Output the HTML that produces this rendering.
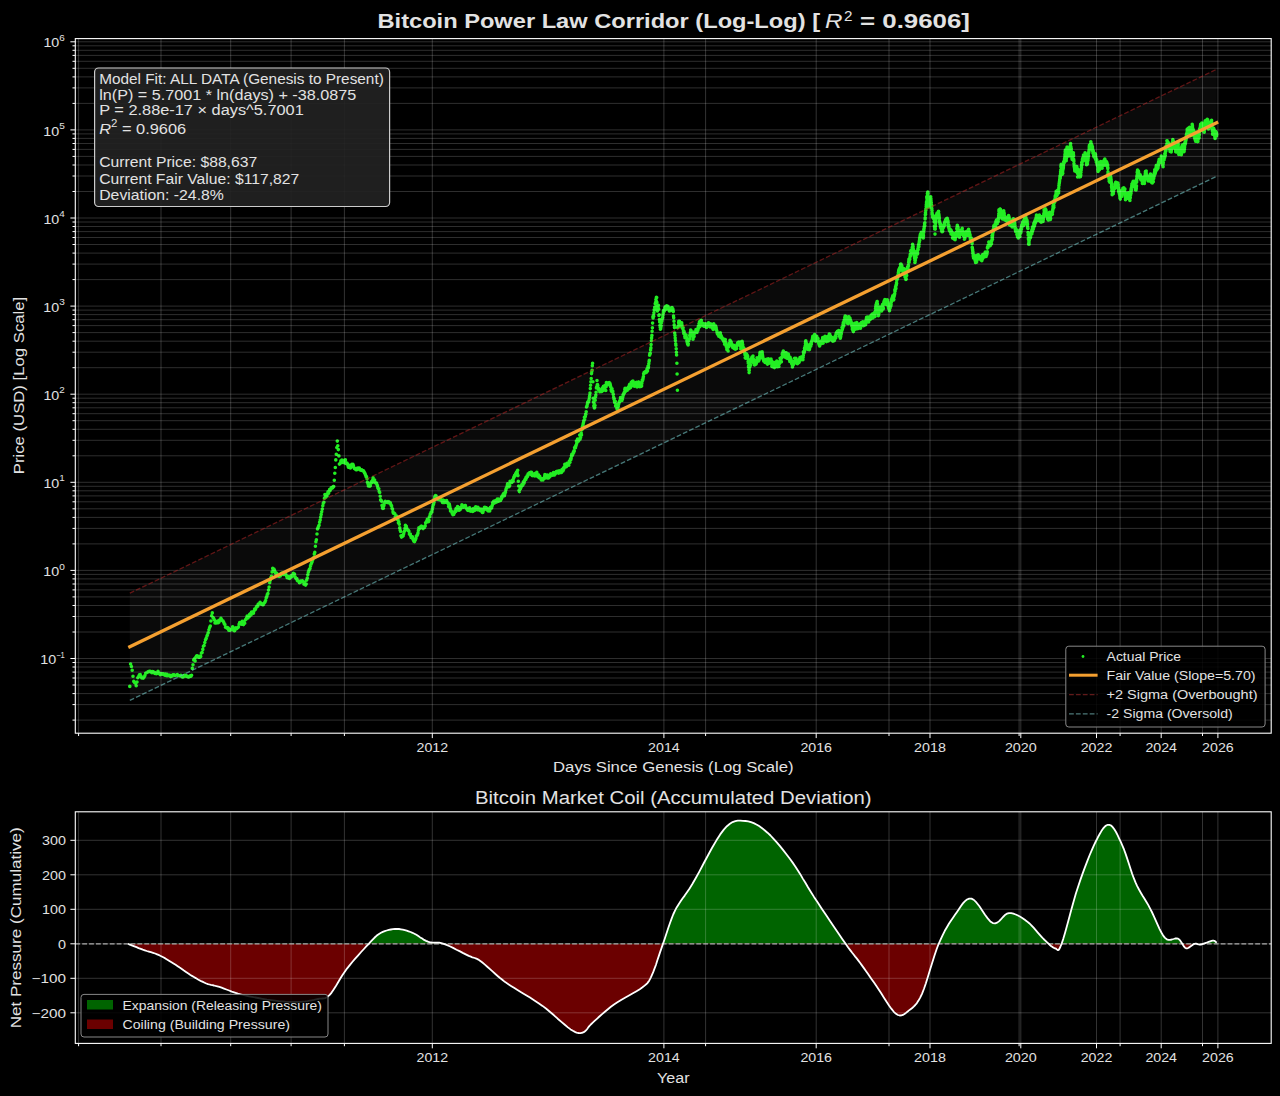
<!DOCTYPE html>
<html><head><meta charset="utf-8"><title>Bitcoin Power Law Corridor</title>
<style>html,body{margin:0;padding:0;background:#000;width:1280px;height:1096px;overflow:hidden}</style>
</head><body>
<svg width="1280" height="1096" viewBox="0 0 1280 1096" style="display:block">
<rect width="1280" height="1096" fill="#000"/>
<g font-family='"Liberation Sans", sans-serif'>
<path d="M129.8 593.2L1216.7 69.2L1216.7 176.3L129.8 700.4Z" fill="#ffffff" fill-opacity="0.04"/>
<path d="M129.8 686.4h0M130.6 664.1h0M131.4 666.5h0M132.2 670.3h0M133.0 676.3h0M133.8 681.4h0M134.6 682.6h0M135.4 683.2h0M136.2 685.7h0M137.0 682.1h0M137.8 677.7h0M138.6 676.5h0M139.4 674.7h0M140.2 674.5h0M141.0 676.4h0M141.8 678.0h0M142.6 678.0h0M143.3 678.1h0M144.1 677.1h0M144.9 675.6h0M145.7 673.2h0M146.5 672.7h0M147.2 672.5h0M148.0 671.8h0M148.8 671.5h0M149.6 671.4h0M150.3 671.2h0M151.1 672.2h0M151.9 672.8h0M152.7 671.5h0M153.4 672.5h0M154.2 672.3h0M155.0 673.4h0M155.7 673.0h0M156.5 673.7h0M157.2 673.0h0M158.0 671.4h0M158.8 673.4h0M159.5 673.4h0M160.3 674.8h0M161.0 673.9h0M161.8 673.8h0M162.5 674.2h0M163.3 673.9h0M164.0 674.6h0M164.8 675.3h0M165.5 674.1h0M166.3 675.6h0M167.0 674.3h0M167.8 675.7h0M168.5 675.4h0M169.2 675.6h0M170.0 675.2h0M170.7 676.6h0M171.5 675.5h0M172.2 675.9h0M172.9 674.9h0M173.7 674.8h0M174.4 675.0h0M175.1 675.5h0M175.9 675.2h0M176.6 675.0h0M177.3 674.5h0M178.0 675.6h0M178.8 675.5h0M179.5 675.8h0M180.2 676.0h0M180.9 675.4h0M181.7 676.1h0M182.4 676.9h0M183.1 676.9h0M183.8 676.0h0M184.5 675.2h0M185.2 675.3h0M186.0 676.3h0M186.7 676.1h0M187.4 676.4h0M188.1 676.9h0M188.8 676.9h0M189.5 676.3h0M190.2 675.9h0M190.9 676.2h0M191.6 675.3h0M192.3 668.4h0M193.0 664.8h0M193.7 659.9h0M194.4 658.9h0M195.1 660.9h0M195.8 657.2h0M196.5 656.0h0M197.2 655.8h0M197.9 656.8h0M198.6 657.2h0M199.3 656.3h0M200.0 657.1h0M200.7 656.4h0M201.4 653.1h0M202.1 652.6h0M202.8 649.4h0M203.4 646.3h0M204.1 645.6h0M204.8 642.5h0M205.5 639.7h0M206.2 638.4h0M206.9 636.3h0M207.5 634.7h0M208.2 632.7h0M208.9 629.8h0M209.6 627.5h0M210.3 626.1h0M210.9 621.0h0M211.6 615.7h0M212.3 612.9h0M213.0 617.6h0M213.6 618.2h0M214.3 619.8h0M215.0 622.9h0M215.6 622.4h0M216.3 622.9h0M217.0 621.2h0M217.6 621.1h0M218.3 622.7h0M219.0 622.1h0M219.6 620.1h0M220.3 620.0h0M220.9 618.4h0M221.6 619.5h0M222.3 620.6h0M222.9 620.8h0M223.6 622.0h0M224.2 623.6h0M224.9 624.6h0M225.5 627.2h0M226.2 627.2h0M226.9 628.1h0M227.5 627.5h0M228.2 628.0h0M228.8 630.3h0M229.5 629.9h0M230.1 630.2h0M230.7 629.4h0M231.4 629.4h0M232.0 628.8h0M232.7 626.7h0M233.3 629.7h0M234.0 630.6h0M234.6 630.8h0M235.2 628.5h0M235.9 627.9h0M236.5 628.8h0M237.2 627.9h0M237.8 627.7h0M238.4 627.0h0M239.1 624.2h0M239.7 622.5h0M240.3 623.6h0M241.0 623.9h0M241.6 624.2h0M242.2 621.4h0M242.9 623.9h0M243.5 624.6h0M244.1 621.9h0M244.7 623.2h0M245.4 619.7h0M246.0 619.3h0M246.6 618.0h0M247.2 616.1h0M247.9 618.0h0M248.5 616.5h0M249.1 616.8h0M249.7 614.3h0M250.3 613.9h0M251.0 615.0h0M251.6 612.1h0M252.2 612.4h0M252.8 612.5h0M253.4 613.3h0M254.0 611.1h0M254.7 609.1h0M255.3 609.5h0M255.9 608.3h0M256.5 606.8h0M257.1 606.1h0M257.7 606.2h0M258.3 604.1h0M258.9 603.7h0M259.5 603.6h0M260.1 602.4h0M260.7 603.9h0M261.4 603.8h0M262.0 603.9h0M262.6 604.8h0M263.2 604.7h0M263.8 603.5h0M264.4 602.8h0M265.0 602.0h0M265.6 600.5h0M266.2 597.9h0M266.8 596.6h0M267.3 594.6h0M267.9 593.6h0M268.5 590.1h0M269.1 587.0h0M269.7 582.8h0M270.3 580.3h0M270.9 577.6h0M271.5 576.4h0M272.1 572.0h0M272.7 568.4h0M273.3 570.0h0M273.9 569.1h0M274.4 570.1h0M275.0 571.8h0M275.6 573.2h0M276.2 573.5h0M276.8 573.4h0M277.4 575.4h0M278.0 575.6h0M278.5 576.2h0M279.1 576.4h0M279.7 576.1h0M280.3 575.9h0M280.9 574.7h0M281.4 573.3h0M282.0 573.0h0M282.6 573.9h0M283.2 573.0h0M283.7 574.5h0M284.3 574.0h0M284.9 573.7h0M285.5 572.9h0M286.0 575.0h0M286.6 576.2h0M287.2 577.7h0M287.7 577.1h0M288.3 576.5h0M288.9 578.3h0M289.4 578.5h0M290.0 577.8h0M290.6 576.6h0M291.1 575.8h0M291.7 576.7h0M292.3 575.8h0M292.8 574.7h0M293.4 573.4h0M294.0 574.6h0M294.5 574.1h0M295.1 576.7h0M295.6 577.8h0M296.2 578.8h0M296.8 578.6h0M297.3 580.4h0M297.9 580.9h0M298.4 581.2h0M299.0 581.4h0M299.5 582.8h0M300.1 582.5h0M300.7 581.0h0M301.2 581.8h0M301.8 581.5h0M302.3 580.9h0M302.9 581.3h0M303.4 581.8h0M304.0 584.2h0M304.5 582.3h0M305.1 584.3h0M305.6 585.1h0M306.2 584.0h0M306.7 580.1h0M307.3 578.0h0M307.8 574.7h0M308.3 572.2h0M308.9 570.5h0M309.4 569.3h0M310.0 568.5h0M310.5 565.9h0M311.1 564.3h0M311.6 563.0h0M312.1 561.8h0M312.7 559.8h0M313.2 558.2h0M313.8 557.5h0M314.3 554.1h0M314.8 552.4h0M315.4 546.3h0M315.9 541.8h0M316.4 539.8h0M317.0 534.0h0M317.5 528.9h0M318.0 527.9h0M318.6 526.3h0M319.1 525.2h0M319.6 522.2h0M320.2 520.0h0M320.7 517.1h0M321.2 514.4h0M321.7 511.7h0M322.3 509.1h0M322.8 505.8h0M323.3 503.3h0M323.9 502.2h0M324.4 498.3h0M324.9 494.5h0M325.4 496.2h0M326.0 497.1h0M326.5 494.2h0M327.0 496.0h0M327.5 493.7h0M328.0 491.9h0M328.6 493.2h0M329.1 491.4h0M329.6 489.5h0M330.1 490.5h0M330.6 489.1h0M331.2 487.8h0M331.7 488.3h0M332.2 488.1h0M332.7 487.8h0M333.2 486.5h0M333.7 486.6h0M334.3 480.3h0M334.8 473.3h0M335.3 467.5h0M335.8 459.9h0M336.3 454.2h0M336.8 447.5h0M337.3 441.1h0M337.8 445.8h0M338.3 449.6h0M338.9 455.9h0M339.4 464.1h0M339.9 463.7h0M340.4 462.9h0M340.9 460.7h0M341.4 461.0h0M341.9 460.0h0M342.4 460.6h0M342.9 462.5h0M343.4 460.5h0M343.9 461.7h0M344.4 462.6h0M344.9 461.3h0M345.4 459.9h0M345.9 463.5h0M346.4 463.5h0M346.9 463.1h0M347.4 463.9h0M347.9 465.6h0M348.4 467.3h0M348.9 465.7h0M349.4 465.4h0M349.9 466.4h0M350.4 467.9h0M350.9 466.5h0M351.4 465.2h0M351.9 464.4h0M352.4 464.6h0M352.9 464.4h0M353.4 465.5h0M353.9 467.6h0M354.4 468.4h0M354.9 468.8h0M355.3 469.0h0M355.8 469.6h0M356.3 468.5h0M356.8 469.7h0M357.3 469.2h0M357.8 468.1h0M358.3 468.2h0M358.8 468.6h0M359.3 468.0h0M359.7 469.5h0M360.2 469.9h0M360.7 470.1h0M361.2 470.1h0M361.7 469.9h0M362.2 470.3h0M362.6 470.8h0M363.1 470.6h0M363.6 471.0h0M364.1 472.1h0M364.6 472.9h0M365.1 473.8h0M365.5 475.0h0M366.0 476.6h0M366.5 476.6h0M367.0 478.8h0M367.4 482.2h0M367.9 483.6h0M368.4 485.9h0M368.9 484.5h0M369.4 484.0h0M369.8 486.3h0M370.3 485.7h0M370.8 483.3h0M371.3 481.8h0M371.7 482.7h0M372.2 482.0h0M372.7 480.1h0M373.1 477.9h0M373.6 480.3h0M374.1 480.3h0M374.6 480.1h0M375.0 482.6h0M375.5 482.6h0M376.0 482.9h0M376.4 483.1h0M376.9 484.5h0M377.4 485.6h0M377.8 487.8h0M378.3 488.7h0M378.8 488.8h0M379.2 491.5h0M379.7 492.5h0M380.2 496.3h0M380.6 499.9h0M381.1 500.2h0M381.6 501.3h0M382.0 505.4h0M382.5 508.1h0M382.9 508.5h0M383.4 508.3h0M383.9 505.6h0M384.3 503.6h0M384.8 502.7h0M385.2 501.4h0M385.7 501.8h0M386.2 502.3h0M386.6 502.2h0M387.1 502.5h0M387.5 501.7h0M388.0 501.6h0M388.4 502.5h0M388.9 501.9h0M389.4 503.1h0M389.8 503.1h0M390.3 502.8h0M390.7 504.2h0M391.2 505.4h0M391.6 505.9h0M392.1 508.5h0M392.5 509.0h0M393.0 511.9h0M393.4 513.2h0M393.9 513.3h0M394.3 513.4h0M394.8 513.7h0M395.2 517.0h0M395.7 517.7h0M396.1 517.0h0M396.6 516.1h0M397.0 516.6h0M397.5 519.6h0M397.9 519.6h0M398.4 522.7h0M398.8 521.9h0M399.3 524.3h0M399.7 527.8h0M400.1 530.0h0M400.6 531.5h0M401.0 535.7h0M401.5 537.1h0M401.9 535.9h0M402.4 535.3h0M402.8 536.2h0M403.2 535.7h0M403.7 533.8h0M404.1 532.0h0M404.6 530.8h0M405.0 528.2h0M405.4 525.4h0M405.9 527.0h0M406.3 526.2h0M406.8 528.4h0M407.2 529.4h0M407.6 530.0h0M408.1 530.6h0M408.5 530.5h0M408.9 531.2h0M409.4 534.0h0M409.8 534.5h0M410.3 534.0h0M410.7 536.0h0M411.1 537.4h0M411.6 537.6h0M412.0 538.1h0M412.4 536.9h0M412.9 539.0h0M413.3 539.9h0M413.7 541.1h0M414.1 541.4h0M414.6 541.6h0M415.0 539.6h0M415.4 539.8h0M415.9 538.4h0M416.3 536.0h0M416.7 535.9h0M417.2 535.2h0M417.6 534.6h0M418.0 532.9h0M418.4 530.2h0M418.9 527.7h0M419.3 528.6h0M419.7 528.5h0M420.1 528.0h0M420.6 527.1h0M421.0 526.3h0M421.4 526.2h0M421.8 526.2h0M422.3 526.8h0M422.7 527.4h0M423.1 528.6h0M423.5 527.3h0M423.9 527.5h0M424.4 527.5h0M424.8 526.5h0M425.2 525.9h0M425.6 522.7h0M426.0 522.8h0M426.5 521.5h0M426.9 521.2h0M427.3 519.4h0M427.7 521.4h0M428.1 520.6h0M428.6 521.6h0M429.0 520.2h0M429.4 516.7h0M429.8 516.7h0M430.2 514.2h0M430.6 513.8h0M431.1 512.3h0M431.5 511.7h0M431.9 511.9h0M432.3 509.5h0M432.7 507.2h0M433.1 505.2h0M433.5 504.5h0M434.0 502.4h0M434.4 498.8h0M434.8 497.1h0M435.2 496.1h0M435.6 495.6h0M436.0 495.7h0M436.4 497.8h0M436.8 498.8h0M437.2 498.4h0M437.6 498.5h0M438.1 499.4h0M438.5 499.1h0M438.9 498.3h0M439.3 498.6h0M439.7 498.0h0M440.1 500.0h0M440.5 498.9h0M440.9 500.1h0M441.3 499.8h0M441.7 500.3h0M442.1 501.2h0M442.5 502.5h0M442.9 500.0h0M443.3 501.2h0M443.7 502.4h0M444.1 500.6h0M444.5 502.5h0M445.0 501.5h0M445.4 501.2h0M445.8 501.8h0M446.2 502.2h0M446.6 500.5h0M447.0 501.7h0M447.4 502.8h0M447.8 503.0h0M448.2 503.7h0M448.6 506.5h0M449.0 503.9h0M449.4 504.4h0M449.8 506.3h0M450.2 508.4h0M450.5 510.9h0M450.9 510.5h0M451.3 511.1h0M451.7 511.8h0M452.1 513.2h0M452.5 513.8h0M452.9 514.8h0M453.3 513.0h0M453.7 514.4h0M454.1 513.2h0M454.5 512.7h0M454.9 511.4h0M455.3 510.5h0M455.7 511.4h0M456.1 508.5h0M456.5 509.6h0M456.9 508.1h0M457.3 507.7h0M457.6 506.6h0M458.0 507.2h0M458.4 508.5h0M458.8 510.3h0M459.2 510.2h0M459.6 509.3h0M460.0 509.4h0M460.4 509.2h0M460.8 507.2h0M461.2 507.7h0M461.5 507.3h0M461.9 504.9h0M462.3 506.4h0M462.7 505.5h0M463.1 505.8h0M463.5 507.2h0M463.9 506.1h0M464.3 506.5h0M464.6 506.2h0M465.0 505.6h0M465.4 505.6h0M465.8 507.4h0M466.2 508.3h0M466.6 508.2h0M466.9 508.4h0M467.3 509.7h0M467.7 510.3h0M468.1 510.4h0M468.5 510.0h0M468.9 508.5h0M469.2 508.7h0M469.6 507.9h0M470.0 508.6h0M470.4 511.1h0M470.8 509.9h0M471.1 509.7h0M471.5 510.2h0M471.9 511.3h0M472.3 510.0h0M472.7 511.4h0M473.0 510.8h0M473.4 508.6h0M473.8 509.2h0M474.2 509.8h0M474.5 510.5h0M474.9 509.5h0M475.3 508.3h0M475.7 506.7h0M476.0 508.0h0M476.4 509.3h0M476.8 508.7h0M477.2 509.8h0M477.5 507.9h0M477.9 507.4h0M478.3 509.6h0M478.7 509.1h0M479.0 510.0h0M479.4 509.3h0M479.8 509.0h0M480.2 510.6h0M480.5 510.3h0M480.9 509.1h0M481.3 509.2h0M481.7 509.5h0M482.0 511.1h0M482.4 512.4h0M482.8 512.4h0M483.1 511.4h0M483.5 510.1h0M483.9 509.5h0M484.2 508.1h0M484.6 507.3h0M485.0 508.8h0M485.3 507.8h0M485.7 507.6h0M486.1 509.0h0M486.4 508.3h0M486.8 509.7h0M487.2 508.3h0M487.5 510.3h0M487.9 509.9h0M488.3 511.0h0M488.6 510.3h0M489.0 509.6h0M489.4 509.1h0M489.7 510.9h0M490.1 509.3h0M490.5 507.4h0M490.8 508.5h0M491.2 506.9h0M491.6 507.9h0M491.9 506.4h0M492.3 505.2h0M492.6 502.7h0M493.0 502.9h0M493.4 503.2h0M493.7 501.4h0M494.1 503.2h0M494.5 501.6h0M494.8 501.2h0M495.2 500.7h0M495.5 501.8h0M495.9 502.2h0M496.3 502.1h0M496.6 502.0h0M497.0 501.4h0M497.3 499.0h0M497.7 499.6h0M498.0 499.3h0M498.4 499.0h0M498.8 501.1h0M499.1 501.0h0M499.5 500.4h0M499.8 499.6h0M500.2 499.8h0M500.5 500.4h0M500.9 499.2h0M501.3 499.0h0M501.6 497.1h0M502.0 497.5h0M502.3 495.7h0M502.7 496.0h0M503.0 495.0h0M503.4 493.7h0M503.7 494.0h0M504.1 494.0h0M504.4 495.8h0M504.8 494.1h0M505.1 492.4h0M505.5 492.3h0M505.9 489.8h0M506.2 488.5h0M506.6 488.0h0M506.9 487.3h0M507.3 485.2h0M507.6 483.9h0M508.0 484.0h0M508.3 485.0h0M508.7 486.6h0M509.0 486.7h0M509.4 485.3h0M509.7 485.5h0M510.1 481.3h0M510.4 481.8h0M510.7 482.2h0M511.1 481.5h0M511.4 481.6h0M511.8 482.4h0M512.1 481.1h0M512.5 480.2h0M512.8 480.0h0M513.2 481.2h0M513.5 478.5h0M513.9 477.1h0M514.2 476.9h0M514.6 475.4h0M514.9 476.0h0M515.2 475.0h0M515.6 474.0h0M515.9 473.4h0M516.3 473.5h0M516.6 472.0h0M517.0 471.7h0M517.3 473.2h0M517.7 470.3h0M518.0 475.6h0M518.3 481.3h0M518.7 486.0h0M519.0 490.6h0M519.4 491.6h0M519.7 489.8h0M520.0 488.9h0M520.4 488.7h0M520.7 486.9h0M521.1 487.3h0M521.4 485.8h0M521.7 485.1h0M522.1 484.2h0M522.4 485.5h0M522.8 484.9h0M523.1 484.6h0M523.4 481.7h0M523.8 482.3h0M524.1 483.1h0M524.5 480.9h0M524.8 479.9h0M525.1 479.8h0M525.5 478.7h0M525.8 479.5h0M526.1 477.3h0M526.5 477.8h0M526.8 477.1h0M527.1 475.9h0M527.5 476.4h0M527.8 475.4h0M528.2 473.7h0M528.5 474.3h0M528.8 474.2h0M529.2 473.7h0M529.5 472.8h0M529.8 474.0h0M530.2 473.4h0M530.5 472.6h0M530.8 472.5h0M531.2 474.6h0M531.5 472.3h0M531.8 474.6h0M532.2 475.6h0M532.5 475.2h0M532.8 475.3h0M533.1 474.8h0M533.5 474.0h0M533.8 474.8h0M534.1 475.7h0M534.5 475.2h0M534.8 475.9h0M535.1 474.8h0M535.5 473.4h0M535.8 473.8h0M536.1 475.3h0M536.4 473.1h0M536.8 472.4h0M537.1 474.3h0M537.4 476.2h0M537.8 475.1h0M538.1 474.8h0M538.4 474.9h0M538.7 475.8h0M539.1 477.7h0M539.4 477.4h0M539.7 476.3h0M540.0 477.8h0M540.4 478.0h0M540.7 478.3h0M541.0 479.3h0M541.4 479.9h0M541.7 479.2h0M542.0 478.7h0M542.3 478.7h0M542.7 479.7h0M543.0 480.0h0M543.3 479.3h0M543.6 478.8h0M543.9 478.3h0M544.3 478.4h0M544.6 476.4h0M544.9 474.6h0M545.2 475.3h0M545.6 476.5h0M545.9 477.7h0M546.2 476.4h0M546.5 475.7h0M546.8 475.7h0M547.2 475.1h0M547.5 477.9h0M547.8 475.5h0M548.1 475.3h0M548.5 477.9h0M548.8 476.2h0M549.1 475.3h0M549.4 477.1h0M549.7 476.3h0M550.0 476.4h0M550.4 475.8h0M550.7 473.7h0M551.0 474.1h0M551.3 474.4h0M551.6 474.2h0M552.0 474.7h0M552.3 474.1h0M552.6 475.2h0M552.9 474.5h0M553.2 473.6h0M553.5 472.5h0M553.9 473.7h0M554.2 473.7h0M554.5 475.0h0M554.8 474.4h0M555.1 473.9h0M555.4 473.8h0M555.8 472.2h0M556.1 473.1h0M556.4 471.6h0M556.7 472.3h0M557.0 472.3h0M557.3 471.7h0M557.6 471.2h0M558.0 471.5h0M558.3 472.5h0M558.6 473.1h0M558.9 471.5h0M559.2 470.9h0M559.5 472.1h0M559.8 472.6h0M560.1 471.4h0M560.5 472.4h0M560.8 471.6h0M561.1 471.7h0M561.4 472.4h0M561.7 471.2h0M562.0 469.5h0M562.3 470.8h0M562.6 470.8h0M562.9 470.9h0M563.3 468.3h0M563.6 469.6h0M563.9 467.6h0M564.2 467.4h0M564.5 466.8h0M564.8 464.3h0M565.1 467.2h0M565.4 466.3h0M565.7 465.2h0M566.0 466.1h0M566.3 466.8h0M566.6 464.7h0M567.0 463.4h0M567.3 465.2h0M567.6 464.6h0M567.9 465.0h0M568.2 463.9h0M568.5 464.3h0M568.8 465.2h0M569.1 462.3h0M569.4 461.0h0M569.7 462.6h0M570.0 462.3h0M570.3 460.0h0M570.6 458.7h0M570.9 459.6h0M571.2 458.0h0M571.5 455.8h0M571.8 454.4h0M572.1 455.6h0M572.5 455.1h0M572.8 454.2h0M573.1 453.0h0M573.4 452.1h0M573.7 452.4h0M574.0 450.7h0M574.3 451.0h0M574.6 447.8h0M574.9 447.4h0M575.2 447.1h0M575.5 447.8h0M575.8 445.6h0M576.1 445.6h0M576.4 441.1h0M576.7 443.5h0M577.0 441.1h0M577.3 440.0h0M577.6 439.1h0M577.9 439.5h0M578.2 440.1h0M578.5 441.1h0M578.8 439.6h0M579.1 440.0h0M579.4 439.0h0M579.7 435.0h0M580.0 439.3h0M580.3 436.9h0M580.6 437.5h0M580.9 434.3h0M581.2 433.0h0M581.5 434.9h0M581.8 429.7h0M582.1 429.5h0M582.4 426.7h0M582.7 426.1h0M583.0 424.9h0M583.2 423.5h0M583.5 422.6h0M583.8 420.9h0M584.1 420.3h0M584.4 417.2h0M584.7 418.9h0M585.0 416.8h0M585.3 416.6h0M585.6 414.3h0M585.9 414.2h0M586.2 411.7h0M586.5 407.0h0M586.8 406.3h0M587.1 405.9h0M587.4 404.1h0M587.7 402.0h0M588.0 402.8h0M588.3 401.9h0M588.6 401.7h0M588.8 400.5h0M589.1 399.6h0M589.4 397.0h0M589.7 395.6h0M590.0 393.0h0M590.3 388.6h0M590.6 385.3h0M590.9 381.7h0M591.2 378.5h0M591.5 373.6h0M591.8 371.6h0M592.1 370.2h0M592.3 365.8h0M592.6 363.3h0M592.9 381.7h0M593.2 398.2h0M593.5 401.8h0M593.8 406.0h0M594.1 403.5h0M594.4 408.0h0M594.7 407.6h0M595.0 405.6h0M595.2 400.3h0M595.5 396.9h0M595.8 395.2h0M596.1 392.3h0M596.4 387.9h0M596.7 386.7h0M597.0 380.5h0M597.3 384.7h0M597.5 384.5h0M597.8 385.7h0M598.1 388.3h0M598.4 388.2h0M598.7 389.7h0M599.0 389.0h0M599.3 389.6h0M599.6 389.6h0M599.8 391.7h0M600.1 390.9h0M600.4 390.7h0M600.7 391.5h0M601.0 391.5h0M601.3 390.3h0M601.5 390.5h0M601.8 391.5h0M602.1 389.8h0M602.4 388.1h0M602.7 387.8h0M603.0 390.5h0M603.3 389.4h0M603.5 386.3h0M603.8 388.6h0M604.1 387.5h0M604.4 388.4h0M604.7 388.7h0M605.0 385.3h0M605.2 386.4h0M605.5 386.7h0M605.8 390.5h0M606.1 386.8h0M606.4 382.6h0M606.6 383.3h0M606.9 383.8h0M607.2 383.3h0M607.5 384.4h0M607.8 383.3h0M608.0 383.4h0M608.3 383.8h0M608.6 383.4h0M608.9 383.6h0M609.2 382.5h0M609.4 384.8h0M609.7 384.9h0M610.0 383.5h0M610.3 384.9h0M610.6 386.7h0M610.8 386.9h0M611.1 389.7h0M611.4 391.2h0M611.7 390.0h0M612.0 388.7h0M612.2 391.5h0M612.5 391.0h0M612.8 391.2h0M613.1 393.7h0M613.3 394.5h0M613.6 397.3h0M613.9 398.9h0M614.2 398.8h0M614.5 401.3h0M614.7 402.5h0M615.0 402.2h0M615.3 401.4h0M615.6 406.0h0M615.8 404.3h0M616.1 404.5h0M616.4 405.0h0M616.7 405.7h0M616.9 408.6h0M617.2 409.2h0M617.5 409.8h0M617.8 408.5h0M618.0 404.2h0M618.3 406.3h0M618.6 404.4h0M618.9 403.2h0M619.1 402.2h0M619.4 401.9h0M619.7 401.1h0M620.0 400.8h0M620.2 400.0h0M620.5 397.6h0M620.8 398.0h0M621.0 398.8h0M621.3 398.1h0M621.6 398.3h0M621.9 400.4h0M622.1 399.3h0M622.4 399.3h0M622.7 397.3h0M623.0 395.1h0M623.2 395.4h0M623.5 394.1h0M623.8 393.9h0M624.0 392.9h0M624.3 392.9h0M624.6 391.9h0M624.8 389.3h0M625.1 388.3h0M625.4 388.6h0M625.7 391.2h0M625.9 389.3h0M626.2 388.8h0M626.5 389.9h0M626.7 390.5h0M627.0 390.2h0M627.3 390.3h0M627.5 389.0h0M627.8 389.2h0M628.1 387.5h0M628.3 387.3h0M628.6 387.7h0M628.9 388.7h0M629.2 385.6h0M629.4 385.9h0M629.7 384.2h0M630.0 386.2h0M630.2 385.8h0M630.5 387.6h0M630.8 385.1h0M631.0 385.8h0M631.3 382.3h0M631.6 383.3h0M631.8 382.9h0M632.1 382.0h0M632.4 381.2h0M632.6 382.7h0M632.9 381.1h0M633.2 382.6h0M633.4 384.9h0M633.7 385.9h0M633.9 384.0h0M634.2 385.6h0M634.5 386.3h0M634.7 383.4h0M635.0 383.4h0M635.3 383.4h0M635.5 383.9h0M635.8 384.0h0M636.1 384.0h0M636.3 384.3h0M636.6 382.4h0M636.9 385.0h0M637.1 386.9h0M637.4 386.2h0M637.6 384.6h0M637.9 385.3h0M638.2 383.5h0M638.4 382.0h0M638.7 382.1h0M639.0 383.6h0M639.2 383.9h0M639.5 386.3h0M639.7 386.6h0M640.0 384.5h0M640.3 384.1h0M640.5 384.6h0M640.8 386.5h0M641.0 386.5h0M641.3 385.5h0M641.6 385.9h0M641.8 383.4h0M642.1 381.5h0M642.3 380.1h0M642.6 380.4h0M642.9 379.3h0M643.1 378.0h0M643.4 376.6h0M643.6 373.7h0M643.9 373.4h0M644.2 372.4h0M644.4 372.2h0M644.7 372.6h0M644.9 372.6h0M645.2 372.8h0M645.5 371.6h0M645.7 372.7h0M646.0 371.8h0M646.2 371.6h0M646.5 372.2h0M646.7 370.5h0M647.0 369.0h0M647.3 371.0h0M647.5 371.1h0M647.8 367.9h0M648.0 366.2h0M648.3 367.9h0M648.5 366.3h0M648.8 363.7h0M649.1 361.4h0M649.3 360.3h0M649.6 355.3h0M649.8 353.9h0M650.1 353.3h0M650.3 353.6h0M650.6 349.9h0M650.9 347.9h0M651.1 344.6h0M651.4 340.7h0M651.6 337.9h0M651.9 335.4h0M652.1 331.3h0M652.4 327.8h0M652.6 323.1h0M652.9 316.9h0M653.1 318.0h0M653.4 315.6h0M653.7 316.3h0M653.9 312.8h0M654.2 309.7h0M654.4 309.8h0M654.7 307.2h0M654.9 308.7h0M655.2 303.8h0M655.4 303.2h0M655.7 302.2h0M655.9 299.6h0M656.2 300.7h0M656.4 297.4h0M656.7 297.6h0M656.9 302.2h0M657.2 306.0h0M657.4 310.9h0M657.7 307.8h0M657.9 307.8h0M658.2 307.9h0M658.4 305.4h0M658.7 309.3h0M658.9 315.4h0M659.2 314.7h0M659.4 319.6h0M659.7 321.9h0M659.9 325.5h0M660.2 327.2h0M660.4 329.2h0M660.7 328.7h0M660.9 326.9h0M661.2 325.8h0M661.4 322.8h0M661.7 321.1h0M661.9 320.8h0M662.2 318.9h0M662.4 318.4h0M662.7 317.6h0M662.9 315.2h0M663.2 313.4h0M663.4 311.3h0M663.7 310.2h0M663.9 311.3h0M664.2 311.3h0M664.4 310.1h0M664.7 309.6h0M664.9 307.8h0M665.2 307.1h0M665.4 309.6h0M665.7 306.6h0M665.9 308.1h0M666.2 308.4h0M666.4 307.4h0M666.7 305.7h0M666.9 306.1h0M667.1 308.8h0M667.4 307.1h0M667.6 308.7h0M667.9 306.2h0M668.1 308.2h0M668.4 309.0h0M668.6 307.9h0M668.9 308.7h0M669.1 310.0h0M669.4 311.0h0M669.6 308.1h0M669.8 308.4h0M670.1 309.0h0M670.3 310.8h0M670.6 309.4h0M670.8 308.4h0M671.1 308.6h0M671.3 310.2h0M671.6 309.4h0M671.8 309.1h0M672.0 307.6h0M672.3 309.6h0M672.5 309.3h0M672.8 308.8h0M673.0 310.1h0M673.3 311.6h0M673.5 316.1h0M673.7 317.7h0M674.0 321.3h0M674.2 324.9h0M674.5 327.6h0M674.7 333.0h0M675.0 335.3h0M675.2 338.1h0M675.4 340.6h0M675.7 343.8h0M675.9 345.2h0M676.2 348.8h0M676.4 352.2h0M676.6 355.0h0M676.9 363.2h0M677.1 374.0h0M677.4 390.2h0M677.6 327.6h0M677.9 327.3h0M678.1 326.2h0M678.3 325.8h0M678.6 322.8h0M678.8 321.3h0M679.1 322.9h0M679.3 324.5h0M679.5 321.3h0M679.8 322.7h0M680.0 323.7h0M680.3 324.7h0M680.5 326.1h0M680.7 324.3h0M681.0 323.0h0M681.2 324.9h0M681.4 325.0h0M681.7 322.9h0M681.9 324.7h0M682.2 325.9h0M682.4 328.2h0M682.6 327.7h0M682.9 327.6h0M683.1 327.8h0M683.4 331.1h0M683.6 330.8h0M683.8 333.5h0M684.1 331.6h0M684.3 333.2h0M684.5 333.9h0M684.8 336.3h0M685.0 337.8h0M685.2 335.9h0M685.5 335.5h0M685.7 335.6h0M686.0 334.7h0M686.2 336.5h0M686.4 338.0h0M686.7 338.5h0M686.9 340.7h0M687.1 341.9h0M687.4 342.9h0M687.6 343.9h0M687.8 344.6h0M688.1 345.0h0M688.3 343.8h0M688.5 340.4h0M688.8 340.4h0M689.0 339.4h0M689.3 339.3h0M689.5 338.7h0M689.7 335.6h0M690.0 336.5h0M690.2 334.1h0M690.4 332.3h0M690.7 330.0h0M690.9 330.2h0M691.1 331.5h0M691.4 331.5h0M691.6 333.3h0M691.8 334.0h0M692.1 334.5h0M692.3 335.7h0M692.5 333.6h0M692.8 336.0h0M693.0 339.3h0M693.2 337.3h0M693.5 337.3h0M693.7 335.1h0M693.9 336.3h0M694.1 336.4h0M694.4 333.4h0M694.6 331.8h0M694.8 332.6h0M695.1 332.1h0M695.3 331.9h0M695.5 331.8h0M695.8 331.2h0M696.0 329.5h0M696.2 331.9h0M696.5 331.8h0M696.7 331.4h0M696.9 332.5h0M697.2 330.9h0M697.4 330.6h0M697.6 328.8h0M697.8 330.4h0M698.1 329.2h0M698.3 326.2h0M698.5 327.4h0M698.8 327.7h0M699.0 323.7h0M699.2 324.3h0M699.5 321.8h0M699.7 324.6h0M699.9 326.4h0M700.1 323.1h0M700.4 324.4h0M700.6 320.7h0M700.8 321.0h0M701.1 322.2h0M701.3 320.4h0M701.5 322.8h0M701.7 322.7h0M702.0 323.2h0M702.2 325.0h0M702.4 324.1h0M702.7 323.2h0M702.9 325.1h0M703.1 324.1h0M703.3 325.8h0M703.6 326.1h0M703.8 325.4h0M704.0 326.3h0M704.2 325.2h0M704.5 324.1h0M704.7 324.4h0M704.9 324.8h0M705.1 324.8h0M705.4 326.5h0M705.6 323.7h0M705.8 324.6h0M706.1 325.5h0M706.3 326.6h0M706.5 327.4h0M706.7 324.8h0M707.0 326.7h0M707.2 326.3h0M707.4 325.1h0M707.6 324.4h0M707.9 325.4h0M708.1 325.3h0M708.3 324.3h0M708.5 322.9h0M708.8 323.8h0M709.0 324.2h0M709.2 324.0h0M709.4 324.4h0M709.7 325.4h0M709.9 326.3h0M710.1 324.5h0M710.3 327.0h0M710.5 323.8h0M710.8 324.6h0M711.0 325.5h0M711.2 324.8h0M711.4 325.6h0M711.7 325.0h0M711.9 325.7h0M712.1 326.7h0M712.3 325.8h0M712.6 327.0h0M712.8 328.7h0M713.0 328.3h0M713.2 329.5h0M713.4 328.6h0M713.7 323.8h0M713.9 328.4h0M714.1 325.9h0M714.3 328.3h0M714.6 327.4h0M714.8 327.7h0M715.0 328.1h0M715.2 325.9h0M715.4 325.9h0M715.7 326.3h0M715.9 326.8h0M716.1 327.6h0M716.3 329.1h0M716.5 330.0h0M716.8 330.7h0M717.0 332.0h0M717.2 332.9h0M717.4 333.7h0M717.7 332.7h0M717.9 333.3h0M718.1 334.8h0M718.3 335.3h0M718.5 334.8h0M718.8 336.2h0M719.0 335.5h0M719.2 335.5h0M719.4 334.1h0M719.6 335.3h0M719.8 335.4h0M720.1 333.7h0M720.3 332.9h0M720.5 334.5h0M720.7 336.8h0M720.9 337.8h0M721.2 335.7h0M721.4 336.7h0M721.6 337.5h0M721.8 337.2h0M722.0 337.8h0M722.3 338.2h0M722.5 339.1h0M722.7 339.4h0M722.9 339.4h0M723.1 339.3h0M723.3 338.8h0M723.6 340.8h0M723.8 340.7h0M724.0 341.7h0M724.2 339.9h0M724.4 341.3h0M724.6 344.2h0M724.9 340.5h0M725.1 341.1h0M725.3 339.5h0M725.5 343.0h0M725.7 342.8h0M725.9 342.7h0M726.2 346.5h0M726.4 344.8h0M726.6 346.4h0M726.8 349.0h0M727.0 349.8h0M727.2 348.4h0M727.5 346.5h0M727.7 345.5h0M727.9 350.6h0M728.1 351.0h0M728.3 347.0h0M728.5 346.9h0M728.7 346.1h0M729.0 345.5h0M729.2 344.8h0M729.4 344.0h0M729.6 343.0h0M729.8 343.8h0M730.0 340.2h0M730.2 342.0h0M730.5 341.2h0M730.7 342.7h0M730.9 341.7h0M731.1 342.0h0M731.3 343.0h0M731.5 345.3h0M731.7 344.2h0M732.0 344.7h0M732.2 346.5h0M732.4 346.9h0M732.6 345.0h0M732.8 346.0h0M733.0 347.8h0M733.2 346.4h0M733.4 346.6h0M733.7 345.3h0M733.9 345.9h0M734.1 347.7h0M734.3 348.6h0M734.5 348.4h0M734.7 347.4h0M734.9 349.0h0M735.1 349.0h0M735.4 349.2h0M735.6 347.9h0M735.8 347.9h0M736.0 348.4h0M736.2 346.5h0M736.4 345.7h0M736.6 348.4h0M736.8 345.8h0M737.0 344.8h0M737.3 345.0h0M737.5 343.4h0M737.7 342.7h0M737.9 344.1h0M738.1 343.6h0M738.3 343.4h0M738.5 343.3h0M738.7 342.1h0M738.9 344.1h0M739.2 344.3h0M739.4 343.1h0M739.6 343.9h0M739.8 342.8h0M740.0 342.1h0M740.2 344.2h0M740.4 346.2h0M740.6 345.7h0M740.8 348.9h0M741.0 346.6h0M741.2 346.2h0M741.5 343.9h0M741.7 345.3h0M741.9 342.4h0M742.1 341.4h0M742.3 342.4h0M742.5 346.7h0M742.7 344.6h0M742.9 346.8h0M743.1 346.9h0M743.3 349.3h0M743.5 348.8h0M743.7 348.7h0M744.0 348.4h0M744.2 351.0h0M744.4 352.3h0M744.6 352.3h0M744.8 353.2h0M745.0 354.7h0M745.2 357.7h0M745.4 357.9h0M745.6 358.2h0M745.8 355.7h0M746.0 356.0h0M746.2 357.2h0M746.4 355.9h0M746.6 354.0h0M746.9 355.8h0M747.1 356.5h0M747.3 356.2h0M747.5 355.5h0M747.7 356.8h0M747.9 358.7h0M748.1 361.6h0M748.3 363.2h0M748.5 366.4h0M748.7 367.3h0M748.9 369.8h0M749.1 372.6h0M749.3 370.3h0M749.5 367.5h0M749.7 367.1h0M749.9 365.7h0M750.1 365.4h0M750.4 365.4h0M750.6 365.3h0M750.8 362.0h0M751.0 360.1h0M751.2 362.1h0M751.4 358.6h0M751.6 359.8h0M751.8 358.3h0M752.0 357.0h0M752.2 360.2h0M752.4 361.0h0M752.6 359.4h0M752.8 357.7h0M753.0 356.1h0M753.2 359.2h0M753.4 359.4h0M753.6 359.5h0M753.8 363.3h0M754.0 360.1h0M754.2 363.5h0M754.4 361.8h0M754.6 365.0h0M754.8 364.6h0M755.0 364.2h0M755.2 363.6h0M755.4 364.5h0M755.6 363.1h0M755.8 362.2h0M756.1 363.9h0M756.3 361.3h0M756.5 362.7h0M756.7 361.4h0M756.9 360.4h0M757.1 357.8h0M757.3 359.4h0M757.5 360.2h0M757.7 360.5h0M757.9 359.8h0M758.1 359.3h0M758.3 357.7h0M758.5 359.5h0M758.7 361.0h0M758.9 360.4h0M759.1 359.9h0M759.3 358.9h0M759.5 358.2h0M759.7 355.5h0M759.9 353.5h0M760.1 352.4h0M760.3 353.3h0M760.5 353.5h0M760.7 356.8h0M760.9 355.3h0M761.1 355.7h0M761.3 356.0h0M761.5 353.6h0M761.7 357.4h0M761.9 356.1h0M762.1 351.8h0M762.3 353.2h0M762.5 355.0h0M762.7 356.2h0M762.9 357.7h0M763.1 359.1h0M763.3 358.7h0M763.5 359.6h0M763.7 361.1h0M763.9 361.1h0M764.1 361.3h0M764.3 360.0h0M764.5 360.1h0M764.7 361.4h0M764.9 361.4h0M765.1 362.4h0M765.3 361.1h0M765.5 361.1h0M765.7 362.0h0M765.9 362.0h0M766.1 361.2h0M766.3 360.5h0M766.5 359.2h0M766.6 361.0h0M766.8 361.8h0M767.0 362.1h0M767.2 362.1h0M767.4 364.1h0M767.6 364.1h0M767.8 361.9h0M768.0 360.8h0M768.2 358.8h0M768.4 359.7h0M768.6 360.1h0M768.8 362.8h0M769.0 360.4h0M769.2 362.9h0M769.4 359.9h0M769.6 363.1h0M769.8 360.0h0M770.0 362.9h0M770.2 360.9h0M770.4 361.6h0M770.6 360.4h0M770.8 361.3h0M771.0 359.0h0M771.2 361.0h0M771.4 360.7h0M771.6 363.6h0M771.8 366.3h0M772.0 364.0h0M772.1 364.9h0M772.3 364.8h0M772.5 366.8h0M772.7 366.5h0M772.9 364.3h0M773.1 363.4h0M773.3 362.5h0M773.5 363.7h0M773.7 362.4h0M773.9 365.4h0M774.1 364.3h0M774.3 366.7h0M774.5 367.6h0M774.7 367.2h0M774.9 363.7h0M775.1 364.1h0M775.3 365.0h0M775.5 365.0h0M775.6 364.0h0M775.8 362.8h0M776.0 363.4h0M776.2 364.0h0M776.4 363.5h0M776.6 361.7h0M776.8 361.1h0M777.0 362.3h0M777.2 363.7h0M777.4 366.7h0M777.6 363.6h0M777.8 364.2h0M778.0 363.8h0M778.2 363.0h0M778.4 365.7h0M778.5 363.3h0M778.7 365.1h0M778.9 366.4h0M779.1 364.1h0M779.3 363.8h0M779.5 362.3h0M779.7 361.9h0M779.9 362.3h0M780.1 358.2h0M780.3 360.4h0M780.5 358.6h0M780.7 359.7h0M780.8 359.3h0M781.0 361.3h0M781.2 361.9h0M781.4 361.8h0M781.6 357.6h0M781.8 357.8h0M782.0 357.2h0M782.2 354.1h0M782.4 356.0h0M782.6 353.3h0M782.8 355.0h0M782.9 352.7h0M783.1 351.8h0M783.3 351.1h0M783.5 353.0h0M783.7 354.3h0M783.9 353.2h0M784.1 352.4h0M784.3 355.6h0M784.5 356.1h0M784.7 355.6h0M784.9 354.0h0M785.0 355.6h0M785.2 357.3h0M785.4 356.4h0M785.6 355.3h0M785.8 352.9h0M786.0 354.6h0M786.2 352.9h0M786.4 355.7h0M786.6 354.5h0M786.7 355.5h0M786.9 358.3h0M787.1 357.7h0M787.3 356.2h0M787.5 358.1h0M787.7 358.3h0M787.9 355.8h0M788.1 355.1h0M788.3 354.0h0M788.4 354.4h0M788.6 355.3h0M788.8 357.4h0M789.0 358.1h0M789.2 358.4h0M789.4 359.8h0M789.6 359.3h0M789.8 361.4h0M789.9 359.7h0M790.1 357.4h0M790.3 359.8h0M790.5 359.2h0M790.7 358.7h0M790.9 359.6h0M791.1 359.7h0M791.3 361.1h0M791.4 361.0h0M791.6 362.7h0M791.8 364.1h0M792.0 362.7h0M792.2 363.3h0M792.4 367.0h0M792.6 365.9h0M792.8 364.9h0M792.9 364.8h0M793.1 363.7h0M793.3 364.0h0M793.5 364.4h0M793.7 362.5h0M793.9 362.4h0M794.1 362.9h0M794.2 362.3h0M794.4 361.3h0M794.6 358.3h0M794.8 361.9h0M795.0 361.6h0M795.2 358.9h0M795.4 360.1h0M795.5 360.3h0M795.7 360.4h0M795.9 358.3h0M796.1 359.5h0M796.3 362.1h0M796.5 360.0h0M796.7 363.0h0M796.8 363.1h0M797.0 360.0h0M797.2 361.4h0M797.4 363.7h0M797.6 361.7h0M797.8 362.4h0M797.9 360.8h0M798.1 361.9h0M798.3 361.3h0M798.5 362.7h0M798.7 361.3h0M798.9 362.6h0M799.1 360.6h0M799.2 361.9h0M799.4 359.9h0M799.6 359.1h0M799.8 359.6h0M800.0 357.5h0M800.2 358.6h0M800.3 359.6h0M800.5 360.0h0M800.7 358.8h0M800.9 357.4h0M801.1 358.4h0M801.3 358.6h0M801.4 359.5h0M801.6 357.8h0M801.8 356.9h0M802.0 357.2h0M802.2 357.2h0M802.4 358.8h0M802.5 357.5h0M802.7 358.9h0M802.9 359.8h0M803.1 357.4h0M803.3 355.5h0M803.4 351.9h0M803.6 352.9h0M803.8 352.2h0M804.0 353.0h0M804.2 352.3h0M804.4 351.2h0M804.5 348.4h0M804.7 350.2h0M804.9 347.9h0M805.1 346.2h0M805.3 345.7h0M805.4 343.2h0M805.6 341.3h0M805.8 340.9h0M806.0 343.0h0M806.2 342.9h0M806.4 343.5h0M806.5 343.7h0M806.7 343.9h0M806.9 344.3h0M807.1 346.1h0M807.3 348.1h0M807.4 348.0h0M807.6 348.9h0M807.8 346.1h0M808.0 347.0h0M808.2 349.5h0M808.3 346.7h0M808.5 347.5h0M808.7 346.1h0M808.9 347.2h0M809.1 349.0h0M809.2 349.2h0M809.4 349.6h0M809.6 348.7h0M809.8 345.4h0M810.0 346.6h0M810.1 345.9h0M810.3 344.1h0M810.5 345.4h0M810.7 346.2h0M810.9 345.0h0M811.0 344.8h0M811.2 342.5h0M811.4 344.0h0M811.6 341.5h0M811.7 341.7h0M811.9 340.9h0M812.1 340.9h0M812.3 339.3h0M812.5 339.9h0M812.6 337.8h0M812.8 336.4h0M813.0 338.2h0M813.2 337.0h0M813.4 337.3h0M813.5 336.6h0M813.7 338.1h0M813.9 336.5h0M814.1 336.1h0M814.2 336.3h0M814.4 336.6h0M814.6 334.6h0M814.8 339.4h0M815.0 338.9h0M815.1 338.2h0M815.3 338.8h0M815.5 341.1h0M815.7 339.5h0M815.8 338.0h0M816.0 336.6h0M816.2 338.6h0M816.4 337.0h0M816.6 338.2h0M816.7 336.2h0M816.9 339.3h0M817.1 339.9h0M817.3 339.5h0M817.4 338.4h0M817.6 340.2h0M817.8 338.2h0M818.0 338.7h0M818.1 340.9h0M818.3 341.7h0M818.5 341.7h0M818.7 342.9h0M818.8 343.6h0M819.0 344.3h0M819.2 343.5h0M819.4 345.6h0M819.6 346.0h0M819.7 345.3h0M819.9 342.9h0M820.1 342.6h0M820.3 342.8h0M820.4 343.6h0M820.6 343.6h0M820.8 341.4h0M821.0 343.1h0M821.1 343.6h0M821.3 343.8h0M821.5 343.2h0M821.7 342.2h0M821.8 343.1h0M822.0 342.7h0M822.2 340.0h0M822.4 339.6h0M822.5 340.4h0M822.7 337.5h0M822.9 340.5h0M823.1 340.0h0M823.2 343.1h0M823.4 341.1h0M823.6 337.7h0M823.7 340.0h0M823.9 339.6h0M824.1 339.6h0M824.3 340.1h0M824.4 340.6h0M824.6 339.9h0M824.8 337.3h0M825.0 336.2h0M825.1 338.4h0M825.3 339.2h0M825.5 338.0h0M825.7 338.0h0M825.8 337.1h0M826.0 336.9h0M826.2 340.1h0M826.4 340.2h0M826.5 341.6h0M826.7 338.6h0M826.9 340.0h0M827.0 337.8h0M827.2 337.1h0M827.4 338.5h0M827.6 338.0h0M827.7 338.6h0M827.9 339.3h0M828.1 336.4h0M828.3 340.9h0M828.4 339.3h0M828.6 339.1h0M828.8 336.4h0M828.9 336.5h0M829.1 336.8h0M829.3 334.0h0M829.5 334.9h0M829.6 336.3h0M829.8 334.3h0M830.0 335.4h0M830.1 337.3h0M830.3 336.2h0M830.5 337.1h0M830.7 336.2h0M830.8 337.7h0M831.0 337.4h0M831.2 339.2h0M831.3 337.9h0M831.5 340.1h0M831.7 338.3h0M831.9 339.1h0M832.0 339.7h0M832.2 337.6h0M832.4 339.3h0M832.5 339.4h0M832.7 341.1h0M832.9 339.9h0M833.1 341.1h0M833.2 340.9h0M833.4 340.5h0M833.6 340.0h0M833.7 340.8h0M833.9 338.2h0M834.1 339.8h0M834.3 340.6h0M834.4 337.9h0M834.6 339.1h0M834.8 338.6h0M834.9 339.1h0M835.1 337.1h0M835.3 335.9h0M835.4 336.2h0M835.6 337.8h0M835.8 337.8h0M835.9 336.5h0M836.1 333.7h0M836.3 333.3h0M836.5 332.6h0M836.6 333.0h0M836.8 333.2h0M837.0 332.7h0M837.1 332.3h0M837.3 332.7h0M837.5 331.3h0M837.6 331.7h0M837.8 331.7h0M838.0 331.5h0M838.1 333.6h0M838.3 332.5h0M838.5 332.1h0M838.7 330.5h0M838.8 332.3h0M839.0 331.5h0M839.2 331.3h0M839.3 330.8h0M839.5 336.2h0M839.7 336.0h0M839.8 336.7h0M840.0 337.1h0M840.2 336.9h0M840.3 338.3h0M840.5 337.6h0M840.7 336.2h0M840.8 336.1h0M841.0 333.6h0M841.2 333.9h0M841.3 333.6h0M841.5 331.6h0M841.7 331.3h0M841.8 330.2h0M842.0 327.6h0M842.2 329.8h0M842.3 329.2h0M842.5 327.3h0M842.7 328.1h0M842.8 326.8h0M843.0 324.6h0M843.2 326.1h0M843.3 322.6h0M843.5 326.2h0M843.7 323.9h0M843.8 325.7h0M844.0 321.6h0M844.2 320.0h0M844.3 320.8h0M844.5 320.2h0M844.7 319.7h0M844.8 317.7h0M845.0 316.8h0M845.2 316.1h0M845.3 321.0h0M845.5 318.4h0M845.7 318.5h0M845.8 318.5h0M846.0 316.6h0M846.2 321.0h0M846.3 319.4h0M846.5 319.5h0M846.7 318.4h0M846.8 321.3h0M847.0 322.3h0M847.2 323.3h0M847.3 320.8h0M847.5 322.4h0M847.7 320.5h0M847.8 322.1h0M848.0 320.3h0M848.2 323.6h0M848.3 319.2h0M848.5 319.4h0M848.7 318.8h0M848.8 316.7h0M849.0 316.8h0M849.1 318.3h0M849.3 318.8h0M849.5 318.6h0M849.6 320.3h0M849.8 319.6h0M850.0 318.3h0M850.1 321.8h0M850.3 321.1h0M850.5 320.2h0M850.6 322.5h0M850.8 322.2h0M851.0 322.6h0M851.1 321.8h0M851.3 323.4h0M851.4 324.2h0M851.6 323.3h0M851.8 324.2h0M851.9 326.1h0M852.1 326.6h0M852.3 329.1h0M852.4 327.4h0M852.6 329.2h0M852.8 329.1h0M852.9 330.5h0M853.1 329.5h0M853.2 331.1h0M853.4 331.6h0M853.6 329.1h0M853.7 328.5h0M853.9 324.7h0M854.1 325.8h0M854.2 326.7h0M854.4 326.8h0M854.5 329.2h0M854.7 323.3h0M854.9 324.4h0M855.0 325.1h0M855.2 324.4h0M855.4 329.1h0M855.5 327.3h0M855.7 326.5h0M855.8 325.9h0M856.0 325.9h0M856.2 325.8h0M856.3 324.3h0M856.5 324.1h0M856.7 322.6h0M856.8 324.8h0M857.0 326.2h0M857.1 328.3h0M857.3 328.7h0M857.5 327.6h0M857.6 328.3h0M857.8 327.5h0M858.0 327.0h0M858.1 327.3h0M858.3 328.5h0M858.4 325.8h0M858.6 326.1h0M858.8 325.5h0M858.9 327.7h0M859.1 327.6h0M859.2 325.0h0M859.4 325.1h0M859.6 324.0h0M859.7 324.5h0M859.9 325.7h0M860.0 324.9h0M860.2 325.8h0M860.4 326.0h0M860.5 328.3h0M860.7 326.3h0M860.9 326.3h0M861.0 325.1h0M861.2 324.9h0M861.3 325.0h0M861.5 322.5h0M861.7 323.3h0M861.8 323.6h0M862.0 323.8h0M862.1 324.0h0M862.3 325.2h0M862.5 323.8h0M862.6 322.4h0M862.8 321.9h0M862.9 323.4h0M863.1 322.5h0M863.3 322.7h0M863.4 325.7h0M863.6 323.7h0M863.7 324.1h0M863.9 324.6h0M864.0 325.4h0M864.2 325.1h0M864.4 325.1h0M864.5 324.0h0M864.7 324.9h0M864.8 321.8h0M865.0 322.4h0M865.2 323.8h0M865.3 324.1h0M865.5 322.3h0M865.6 324.7h0M865.8 323.7h0M866.0 320.5h0M866.1 320.3h0M866.3 321.5h0M866.4 318.6h0M866.6 317.3h0M866.7 318.8h0M866.9 318.0h0M867.1 317.5h0M867.2 319.0h0M867.4 318.0h0M867.5 318.9h0M867.7 317.0h0M867.9 317.7h0M868.0 318.3h0M868.2 319.2h0M868.3 319.7h0M868.5 319.1h0M868.6 321.9h0M868.8 320.1h0M869.0 319.2h0M869.1 319.5h0M869.3 317.8h0M869.4 317.8h0M869.6 316.7h0M869.7 318.2h0M869.9 318.4h0M870.1 318.8h0M870.2 319.4h0M870.4 318.5h0M870.5 318.7h0M870.7 316.9h0M870.8 316.0h0M871.0 318.1h0M871.2 317.7h0M871.3 315.1h0M871.5 317.6h0M871.6 315.5h0M871.8 316.8h0M871.9 317.4h0M872.1 314.8h0M872.3 315.5h0M872.4 314.1h0M872.6 315.2h0M872.7 318.0h0M872.9 316.7h0M873.0 315.8h0M873.2 315.3h0M873.4 316.5h0M873.5 316.4h0M873.7 316.8h0M873.8 317.0h0M874.0 316.3h0M874.1 315.5h0M874.3 312.7h0M874.4 313.0h0M874.6 315.9h0M874.8 313.9h0M874.9 316.6h0M875.1 313.4h0M875.2 312.8h0M875.4 311.4h0M875.5 308.5h0M875.7 307.8h0M875.8 306.8h0M876.0 305.0h0M876.2 306.4h0M876.3 304.9h0M876.5 303.4h0M876.6 303.0h0M876.8 304.6h0M876.9 303.7h0M877.1 301.6h0M877.2 301.6h0M877.4 303.7h0M877.5 304.3h0M877.7 307.6h0M877.9 310.4h0M878.0 310.7h0M878.2 314.0h0M878.3 315.7h0M878.5 312.8h0M878.6 315.2h0M878.8 312.8h0M878.9 313.5h0M879.1 311.5h0M879.2 309.5h0M879.4 308.3h0M879.6 309.0h0M879.7 307.0h0M879.9 310.2h0M880.0 309.2h0M880.2 310.6h0M880.3 310.2h0M880.5 309.3h0M880.6 310.2h0M880.8 307.0h0M880.9 307.5h0M881.1 308.2h0M881.2 308.9h0M881.4 309.3h0M881.6 310.9h0M881.7 309.7h0M881.9 308.7h0M882.0 307.0h0M882.2 308.8h0M882.3 307.2h0M882.5 304.5h0M882.6 305.4h0M882.8 306.0h0M882.9 307.0h0M883.1 304.9h0M883.2 308.9h0M883.4 308.4h0M883.5 304.3h0M883.7 304.2h0M883.8 302.3h0M884.0 303.3h0M884.1 301.7h0M884.3 300.7h0M884.5 301.0h0M884.6 302.3h0M884.8 300.4h0M884.9 299.5h0M885.1 299.7h0M885.2 302.3h0M885.4 301.6h0M885.5 301.7h0M885.7 300.8h0M885.8 302.3h0M886.0 301.2h0M886.1 302.6h0M886.3 301.6h0M886.4 304.5h0M886.6 302.9h0M886.7 301.2h0M886.9 300.2h0M887.0 301.3h0M887.2 299.7h0M887.3 300.8h0M887.5 301.9h0M887.6 302.3h0M887.8 301.5h0M887.9 303.8h0M888.1 305.3h0M888.2 306.1h0M888.4 307.7h0M888.5 308.3h0M888.7 307.7h0M888.8 307.8h0M889.0 308.1h0M889.1 307.3h0M889.3 309.6h0M889.5 310.8h0M889.6 308.4h0M889.8 305.9h0M889.9 306.7h0M890.1 307.9h0M890.2 305.3h0M890.4 307.0h0M890.5 304.6h0M890.7 306.1h0M890.8 305.9h0M891.0 303.2h0M891.1 304.8h0M891.3 302.5h0M891.4 299.7h0M891.6 299.8h0M891.7 301.1h0M891.9 299.3h0M892.0 298.3h0M892.2 299.2h0M892.3 297.7h0M892.5 296.9h0M892.6 297.8h0M892.8 295.7h0M892.9 296.6h0M893.1 297.9h0M893.2 300.0h0M893.4 298.6h0M893.5 298.6h0M893.6 300.0h0M893.8 299.6h0M893.9 296.7h0M894.1 296.6h0M894.2 294.6h0M894.4 295.1h0M894.5 294.4h0M894.7 293.7h0M894.8 290.1h0M895.0 291.5h0M895.1 291.3h0M895.3 289.4h0M895.4 288.3h0M895.6 286.7h0M895.7 287.3h0M895.9 288.6h0M896.0 285.4h0M896.2 285.2h0M896.3 284.8h0M896.5 282.9h0M896.6 283.4h0M896.8 280.3h0M896.9 279.1h0M897.1 279.0h0M897.2 277.6h0M897.4 278.6h0M897.5 277.8h0M897.7 277.2h0M897.8 275.9h0M898.0 275.1h0M898.1 275.9h0M898.3 274.3h0M898.4 272.4h0M898.5 273.2h0M898.7 270.4h0M898.8 270.1h0M899.0 270.1h0M899.1 269.2h0M899.3 271.1h0M899.4 270.4h0M899.6 270.1h0M899.7 267.9h0M899.9 267.8h0M900.0 268.9h0M900.2 267.7h0M900.3 267.6h0M900.5 264.3h0M900.6 266.4h0M900.8 266.2h0M900.9 264.0h0M901.0 265.5h0M901.2 264.6h0M901.3 265.8h0M901.5 266.5h0M901.6 267.0h0M901.8 265.7h0M901.9 267.2h0M902.1 269.6h0M902.2 268.9h0M902.4 267.9h0M902.5 270.6h0M902.7 270.6h0M902.8 270.3h0M903.0 271.9h0M903.1 268.7h0M903.2 270.7h0M903.4 271.6h0M903.5 271.5h0M903.7 268.6h0M903.8 272.1h0M904.0 270.2h0M904.1 273.9h0M904.3 270.7h0M904.4 272.6h0M904.6 271.4h0M904.7 274.0h0M904.9 275.7h0M905.0 277.0h0M905.1 276.5h0M905.3 277.4h0M905.4 275.9h0M905.6 277.6h0M905.7 278.6h0M905.9 279.5h0M906.0 279.1h0M906.2 278.9h0M906.3 276.0h0M906.4 274.5h0M906.6 275.2h0M906.7 275.6h0M906.9 270.8h0M907.0 268.9h0M907.2 270.4h0M907.3 269.3h0M907.5 267.3h0M907.6 267.1h0M907.8 268.2h0M907.9 267.7h0M908.0 268.6h0M908.2 266.4h0M908.3 265.4h0M908.5 265.8h0M908.6 262.3h0M908.8 261.0h0M908.9 259.3h0M909.1 262.3h0M909.2 260.7h0M909.3 260.5h0M909.5 259.3h0M909.6 259.0h0M909.8 259.2h0M909.9 257.3h0M910.1 256.5h0M910.2 254.9h0M910.3 254.4h0M910.5 255.7h0M910.6 251.3h0M910.8 251.4h0M910.9 251.1h0M911.1 250.4h0M911.2 251.7h0M911.4 251.6h0M911.5 253.5h0M911.6 253.1h0M911.8 249.7h0M911.9 250.7h0M912.1 250.2h0M912.2 247.5h0M912.4 248.8h0M912.5 247.0h0M912.6 244.2h0M912.8 246.7h0M912.9 245.7h0M913.1 246.6h0M913.2 248.4h0M913.4 249.8h0M913.5 252.0h0M913.6 252.0h0M913.8 254.0h0M913.9 253.2h0M914.1 253.1h0M914.2 255.8h0M914.4 256.5h0M914.5 258.0h0M914.6 257.9h0M914.8 260.0h0M914.9 262.4h0M915.1 262.1h0M915.2 257.9h0M915.4 260.1h0M915.5 258.0h0M915.6 257.1h0M915.8 257.1h0M915.9 257.2h0M916.1 255.0h0M916.2 257.3h0M916.3 254.9h0M916.5 253.7h0M916.6 251.2h0M916.8 253.2h0M916.9 253.0h0M917.1 253.4h0M917.2 253.9h0M917.3 251.8h0M917.5 253.9h0M917.6 253.1h0M917.8 250.0h0M917.9 249.1h0M918.0 248.6h0M918.2 249.5h0M918.3 246.7h0M918.5 245.6h0M918.6 244.5h0M918.8 244.2h0M918.9 246.6h0M919.0 244.6h0M919.2 242.4h0M919.3 241.3h0M919.5 240.5h0M919.6 238.9h0M919.7 240.6h0M919.9 237.6h0M920.0 236.2h0M920.2 236.3h0M920.3 235.0h0M920.4 234.2h0M920.6 236.5h0M920.7 235.4h0M920.9 233.6h0M921.0 234.5h0M921.1 234.7h0M921.3 232.4h0M921.4 234.4h0M921.6 234.1h0M921.7 233.6h0M921.9 235.9h0M922.0 233.7h0M922.1 234.3h0M922.3 234.6h0M922.4 234.7h0M922.6 236.4h0M922.7 236.5h0M922.8 235.5h0M923.0 236.6h0M923.1 235.7h0M923.3 238.0h0M923.4 235.0h0M923.5 236.0h0M923.7 232.4h0M923.8 229.2h0M923.9 230.3h0M924.1 228.4h0M924.2 226.7h0M924.4 225.9h0M924.5 226.5h0M924.6 223.4h0M924.8 225.6h0M924.9 222.8h0M925.1 219.0h0M925.2 217.7h0M925.3 214.7h0M925.5 212.7h0M925.6 214.2h0M925.8 210.5h0M925.9 209.0h0M926.0 208.7h0M926.2 206.3h0M926.3 204.5h0M926.5 202.8h0M926.6 201.6h0M926.7 197.0h0M926.9 198.2h0M927.0 199.0h0M927.1 196.9h0M927.3 195.8h0M927.4 193.6h0M927.6 195.1h0M927.7 194.4h0M927.8 192.0h0M928.0 193.3h0M928.1 196.9h0M928.3 199.4h0M928.4 200.8h0M928.5 203.6h0M928.7 204.0h0M928.8 207.0h0M928.9 204.3h0M929.1 205.1h0M929.2 204.6h0M929.4 203.6h0M929.5 203.2h0M929.6 204.5h0M929.8 203.2h0M929.9 204.6h0M930.0 204.7h0M930.2 203.8h0M930.3 203.4h0M930.5 202.0h0M930.6 201.4h0M930.7 196.8h0M930.9 198.7h0M931.0 200.3h0M931.1 202.1h0M931.3 202.7h0M931.4 205.4h0M931.6 206.6h0M931.7 205.4h0M931.8 208.6h0M932.0 210.4h0M932.1 212.9h0M932.2 214.5h0M932.4 214.6h0M932.5 217.0h0M932.7 215.2h0M932.8 215.6h0M932.9 215.5h0M933.1 215.7h0M933.2 217.1h0M933.3 218.2h0M933.5 217.8h0M933.6 216.4h0M933.8 216.7h0M933.9 219.0h0M934.0 218.4h0M934.2 221.7h0M934.3 222.1h0M934.4 226.0h0M934.6 226.9h0M934.7 229.0h0M934.8 229.0h0M935.0 234.1h0M935.1 228.9h0M935.3 229.1h0M935.4 226.6h0M935.5 225.5h0M935.7 223.0h0M935.8 222.5h0M935.9 221.0h0M936.1 219.0h0M936.2 217.4h0M936.3 217.9h0M936.5 214.9h0M936.6 215.2h0M936.7 214.6h0M936.9 213.7h0M937.0 213.3h0M937.2 213.1h0M937.3 216.0h0M937.4 216.0h0M937.6 217.5h0M937.7 215.5h0M937.8 217.4h0M938.0 215.4h0M938.1 216.3h0M938.2 215.2h0M938.4 212.8h0M938.5 211.2h0M938.6 211.6h0M938.8 214.0h0M938.9 214.4h0M939.0 215.5h0M939.2 217.0h0M939.3 218.2h0M939.5 220.9h0M939.6 221.8h0M939.7 222.5h0M939.9 223.3h0M940.0 224.5h0M940.1 224.6h0M940.3 223.6h0M940.4 225.9h0M940.5 227.1h0M940.7 225.0h0M940.8 228.0h0M940.9 228.2h0M941.1 228.8h0M941.2 228.2h0M941.3 228.0h0M941.5 229.9h0M941.6 228.9h0M941.7 230.7h0M941.9 230.1h0M942.0 231.8h0M942.1 231.8h0M942.3 231.7h0M942.4 230.3h0M942.5 229.7h0M942.7 231.3h0M942.8 227.4h0M942.9 227.9h0M943.1 227.1h0M943.2 226.8h0M943.3 227.7h0M943.5 227.5h0M943.6 227.2h0M943.7 225.6h0M943.9 224.9h0M944.0 225.3h0M944.1 224.2h0M944.3 224.0h0M944.4 223.8h0M944.5 223.1h0M944.7 222.2h0M944.8 225.3h0M944.9 222.6h0M945.1 221.4h0M945.2 221.8h0M945.3 220.7h0M945.5 221.4h0M945.6 219.9h0M945.7 221.2h0M945.9 220.9h0M946.0 219.9h0M946.1 220.4h0M946.3 221.4h0M946.4 218.7h0M946.5 219.9h0M946.7 220.5h0M946.8 219.8h0M946.9 219.8h0M947.1 220.1h0M947.2 218.3h0M947.3 219.9h0M947.5 221.8h0M947.6 220.0h0M947.7 221.3h0M947.9 221.6h0M948.0 220.9h0M948.1 222.5h0M948.3 225.1h0M948.4 224.8h0M948.5 227.2h0M948.7 227.0h0M948.8 226.7h0M948.9 225.6h0M949.1 228.7h0M949.2 228.2h0M949.3 229.9h0M949.5 229.8h0M949.6 230.4h0M949.7 231.0h0M949.8 229.6h0M950.0 229.7h0M950.1 229.6h0M950.2 229.3h0M950.4 231.1h0M950.5 231.1h0M950.6 232.0h0M950.8 231.4h0M950.9 230.4h0M951.0 234.0h0M951.2 230.5h0M951.3 230.9h0M951.4 232.0h0M951.6 232.3h0M951.7 232.5h0M951.8 233.3h0M952.0 232.3h0M952.1 234.0h0M952.2 233.2h0M952.3 233.8h0M952.5 235.1h0M952.6 238.1h0M952.7 234.8h0M952.9 235.5h0M953.0 234.3h0M953.1 233.9h0M953.3 233.4h0M953.4 233.2h0M953.5 234.3h0M953.7 234.0h0M953.8 237.2h0M953.9 237.7h0M954.0 238.1h0M954.2 239.1h0M954.3 237.9h0M954.4 236.7h0M954.6 237.2h0M954.7 237.0h0M954.8 237.5h0M955.0 238.7h0M955.1 239.8h0M955.2 239.1h0M955.4 236.8h0M955.5 237.5h0M955.6 235.3h0M955.7 236.4h0M955.9 236.7h0M956.0 233.1h0M956.1 235.3h0M956.3 235.8h0M956.4 236.3h0M956.5 232.3h0M956.7 232.5h0M956.8 228.4h0M956.9 228.9h0M957.0 228.2h0M957.2 226.9h0M957.3 225.4h0M957.4 225.6h0M957.6 227.8h0M957.7 227.8h0M957.8 230.7h0M957.9 227.3h0M958.1 227.8h0M958.2 230.0h0M958.3 232.4h0M958.5 230.0h0M958.6 230.6h0M958.7 231.3h0M958.9 233.6h0M959.0 233.4h0M959.1 232.9h0M959.2 232.6h0M959.4 235.8h0M959.5 237.3h0M959.6 234.2h0M959.8 231.7h0M959.9 234.5h0M960.0 234.5h0M960.1 234.8h0M960.3 232.0h0M960.4 231.6h0M960.5 232.4h0M960.7 232.0h0M960.8 230.9h0M960.9 230.8h0M961.0 230.2h0M961.2 231.0h0M961.3 231.4h0M961.4 230.8h0M961.6 231.1h0M961.7 230.2h0M961.8 230.3h0M961.9 233.8h0M962.1 230.0h0M962.2 228.4h0M962.3 230.8h0M962.5 231.9h0M962.6 231.3h0M962.7 232.9h0M962.8 233.6h0M963.0 232.8h0M963.1 233.0h0M963.2 234.7h0M963.4 234.1h0M963.5 235.7h0M963.6 235.4h0M963.7 232.2h0M963.9 235.7h0M964.0 236.3h0M964.1 235.9h0M964.2 236.7h0M964.4 239.3h0M964.5 236.1h0M964.6 235.4h0M964.8 238.4h0M964.9 236.4h0M965.0 236.9h0M965.1 236.1h0M965.3 235.1h0M965.4 234.5h0M965.5 235.3h0M965.6 233.7h0M965.8 233.3h0M965.9 231.7h0M966.0 235.5h0M966.2 233.5h0M966.3 232.7h0M966.4 232.4h0M966.5 232.6h0M966.7 232.8h0M966.8 231.7h0M966.9 231.6h0M967.0 231.7h0M967.2 232.8h0M967.3 233.4h0M967.4 231.0h0M967.6 231.4h0M967.7 231.2h0M967.8 232.5h0M967.9 232.9h0M968.1 235.5h0M968.2 233.7h0M968.3 231.0h0M968.4 230.7h0M968.6 229.3h0M968.7 230.5h0M968.8 232.8h0M968.9 234.0h0M969.1 233.6h0M969.2 232.3h0M969.3 232.1h0M969.5 233.6h0M969.6 233.3h0M969.7 235.3h0M969.8 236.1h0M970.0 235.4h0M970.1 235.0h0M970.2 237.1h0M970.3 238.7h0M970.5 237.7h0M970.6 239.4h0M970.7 239.3h0M970.8 239.1h0M971.0 237.7h0M971.1 240.5h0M971.2 238.7h0M971.3 238.2h0M971.5 240.8h0M971.6 241.1h0M971.7 239.2h0M971.8 240.5h0M972.0 242.5h0M972.1 243.6h0M972.2 247.4h0M972.3 247.5h0M972.5 249.0h0M972.6 249.8h0M972.7 251.0h0M972.8 253.3h0M973.0 252.0h0M973.1 254.1h0M973.2 256.1h0M973.3 254.9h0M973.5 257.8h0M973.6 257.7h0M973.7 258.2h0M973.8 255.4h0M974.0 258.1h0M974.1 256.9h0M974.2 257.4h0M974.3 256.0h0M974.5 255.5h0M974.6 255.6h0M974.7 257.1h0M974.8 257.1h0M975.0 257.6h0M975.1 260.4h0M975.2 257.7h0M975.3 258.0h0M975.5 261.1h0M975.6 262.5h0M975.7 261.7h0M975.8 260.4h0M976.0 262.0h0M976.1 259.4h0M976.2 261.2h0M976.3 261.4h0M976.5 260.5h0M976.6 262.1h0M976.7 260.2h0M976.8 259.9h0M977.0 258.7h0M977.1 260.0h0M977.2 256.5h0M977.3 256.3h0M977.5 256.0h0M977.6 255.1h0M977.7 256.8h0M977.8 256.9h0M978.0 255.3h0M978.1 256.0h0M978.2 254.9h0M978.3 255.7h0M978.4 257.9h0M978.6 257.5h0M978.7 257.2h0M978.8 256.9h0M978.9 255.9h0M979.1 258.1h0M979.2 256.8h0M979.3 257.3h0M979.4 257.9h0M979.6 257.9h0M979.7 258.7h0M979.8 257.3h0M979.9 258.2h0M980.1 257.1h0M980.2 257.3h0M980.3 259.1h0M980.4 258.2h0M980.5 259.3h0M980.7 259.8h0M980.8 256.6h0M980.9 256.9h0M981.0 260.0h0M981.2 257.2h0M981.3 258.2h0M981.4 257.5h0M981.5 257.4h0M981.7 257.5h0M981.8 260.8h0M981.9 260.4h0M982.0 258.2h0M982.1 259.7h0M982.3 257.2h0M982.4 257.0h0M982.5 258.7h0M982.6 256.9h0M982.8 254.5h0M982.9 255.9h0M983.0 258.0h0M983.1 256.1h0M983.2 255.9h0M983.4 254.6h0M983.5 255.7h0M983.6 255.1h0M983.7 256.5h0M983.9 256.8h0M984.0 256.5h0M984.1 255.5h0M984.2 254.5h0M984.3 254.1h0M984.5 254.7h0M984.6 255.3h0M984.7 254.9h0M984.8 256.7h0M985.0 255.2h0M985.1 253.7h0M985.2 255.0h0M985.3 252.1h0M985.4 255.5h0M985.6 256.3h0M985.7 253.5h0M985.8 254.5h0M985.9 253.7h0M986.1 256.4h0M986.2 253.5h0M986.3 254.6h0M986.4 254.7h0M986.5 254.1h0M986.7 254.8h0M986.8 254.0h0M986.9 254.2h0M987.0 253.7h0M987.1 252.2h0M987.3 251.8h0M987.4 248.1h0M987.5 247.2h0M987.6 247.4h0M987.8 246.7h0M987.9 247.7h0M988.0 246.8h0M988.1 245.2h0M988.2 245.3h0M988.4 245.7h0M988.5 246.2h0M988.6 245.7h0M988.7 245.0h0M988.8 242.1h0M989.0 244.2h0M989.1 242.1h0M989.2 244.7h0M989.3 243.0h0M989.4 243.1h0M989.6 243.2h0M989.7 244.5h0M989.8 244.3h0M989.9 244.1h0M990.1 244.8h0M990.2 245.8h0M990.3 245.6h0M990.4 244.9h0M990.5 242.9h0M990.7 243.5h0M990.8 242.5h0M990.9 242.0h0M991.0 244.1h0M991.1 241.9h0M991.3 243.2h0M991.4 244.0h0M991.5 243.8h0M991.6 240.7h0M991.7 240.9h0M991.9 240.3h0M992.0 235.7h0M992.1 239.1h0M992.2 237.4h0M992.3 236.7h0M992.5 239.2h0M992.6 235.7h0M992.7 233.9h0M992.8 232.9h0M992.9 232.6h0M993.1 232.2h0M993.2 231.2h0M993.3 231.2h0M993.4 230.1h0M993.5 228.7h0M993.7 228.0h0M993.8 225.9h0M993.9 227.8h0M994.0 226.5h0M994.1 228.0h0M994.3 229.1h0M994.4 227.1h0M994.5 226.6h0M994.6 226.2h0M994.7 226.7h0M994.8 225.0h0M995.0 226.2h0M995.1 224.2h0M995.2 223.9h0M995.3 223.7h0M995.4 224.0h0M995.6 226.7h0M995.7 223.6h0M995.8 223.5h0M995.9 221.6h0M996.0 222.3h0M996.2 222.4h0M996.3 222.3h0M996.4 222.8h0M996.5 220.1h0M996.6 220.9h0M996.8 220.9h0M996.9 220.1h0M997.0 221.9h0M997.1 220.8h0M997.2 223.7h0M997.3 221.7h0M997.5 222.3h0M997.6 221.4h0M997.7 221.9h0M997.8 221.5h0M997.9 219.9h0M998.1 221.3h0M998.2 221.6h0M998.3 219.5h0M998.4 219.6h0M998.5 217.4h0M998.7 215.5h0M998.8 213.8h0M998.9 211.0h0M999.0 209.7h0M999.1 210.0h0M999.2 210.3h0M999.4 210.5h0M999.5 212.6h0M999.6 211.5h0M999.7 209.2h0M999.8 209.2h0M1000.0 210.2h0M1000.1 210.5h0M1000.2 209.4h0M1000.3 209.2h0M1000.4 209.3h0M1000.5 210.0h0M1000.7 211.0h0M1000.8 212.7h0M1000.9 211.2h0M1001.0 214.2h0M1001.1 213.8h0M1001.2 215.2h0M1001.4 216.4h0M1001.5 214.8h0M1001.6 216.0h0M1001.7 218.1h0M1001.8 215.6h0M1002.0 215.0h0M1002.1 215.8h0M1002.2 214.1h0M1002.3 215.6h0M1002.4 218.4h0M1002.5 218.9h0M1002.7 218.6h0M1002.8 217.8h0M1002.9 216.8h0M1003.0 218.2h0M1003.1 216.8h0M1003.2 216.3h0M1003.4 216.6h0M1003.5 214.6h0M1003.6 213.5h0M1003.7 210.8h0M1003.8 212.1h0M1003.9 212.7h0M1004.1 213.3h0M1004.2 213.3h0M1004.3 215.7h0M1004.4 215.6h0M1004.5 219.2h0M1004.6 218.9h0M1004.8 219.0h0M1004.9 220.0h0M1005.0 218.4h0M1005.1 218.1h0M1005.2 217.7h0M1005.3 217.8h0M1005.5 220.1h0M1005.6 219.0h0M1005.7 219.7h0M1005.8 219.5h0M1005.9 220.4h0M1006.0 219.1h0M1006.2 219.2h0M1006.3 219.6h0M1006.4 219.9h0M1006.5 220.0h0M1006.6 219.3h0M1006.7 219.6h0M1006.9 220.8h0M1007.0 220.0h0M1007.1 219.9h0M1007.2 221.4h0M1007.3 219.2h0M1007.4 219.2h0M1007.6 219.4h0M1007.7 217.1h0M1007.8 220.5h0M1007.9 220.5h0M1008.0 219.7h0M1008.1 217.1h0M1008.3 217.6h0M1008.4 216.4h0M1008.5 216.9h0M1008.6 215.6h0M1008.7 218.7h0M1008.8 219.2h0M1008.9 216.6h0M1009.1 217.2h0M1009.2 221.3h0M1009.3 220.1h0M1009.4 220.7h0M1009.5 223.1h0M1009.6 225.0h0M1009.8 222.1h0M1009.9 222.2h0M1010.0 222.1h0M1010.1 220.1h0M1010.2 219.7h0M1010.3 222.0h0M1010.4 221.5h0M1010.6 221.7h0M1010.7 221.6h0M1010.8 220.8h0M1010.9 222.8h0M1011.0 223.2h0M1011.1 224.4h0M1011.3 224.6h0M1011.4 226.0h0M1011.5 224.5h0M1011.6 224.8h0M1011.7 222.9h0M1011.8 223.7h0M1011.9 224.5h0M1012.1 225.9h0M1012.2 226.0h0M1012.3 226.9h0M1012.4 225.6h0M1012.5 226.6h0M1012.6 226.2h0M1012.7 226.8h0M1012.9 223.4h0M1013.0 222.8h0M1013.1 221.6h0M1013.2 220.1h0M1013.3 220.4h0M1013.4 218.9h0M1013.5 220.9h0M1013.7 222.3h0M1013.8 221.7h0M1013.9 221.8h0M1014.0 222.5h0M1014.1 222.2h0M1014.2 225.3h0M1014.3 223.4h0M1014.5 221.6h0M1014.6 222.1h0M1014.7 224.7h0M1014.8 223.7h0M1014.9 225.9h0M1015.0 225.6h0M1015.1 228.1h0M1015.3 229.5h0M1015.4 230.0h0M1015.5 229.6h0M1015.6 228.4h0M1015.7 231.6h0M1015.8 229.6h0M1015.9 228.9h0M1016.1 230.2h0M1016.2 230.0h0M1016.3 230.5h0M1016.4 231.7h0M1016.5 231.8h0M1016.6 230.7h0M1016.7 230.5h0M1016.9 234.4h0M1017.0 230.3h0M1017.1 232.2h0M1017.2 231.2h0M1017.3 232.8h0M1017.4 233.5h0M1017.5 236.8h0M1017.7 234.7h0M1017.8 237.0h0M1017.9 234.3h0M1018.0 236.1h0M1018.1 235.9h0M1018.2 236.5h0M1018.3 237.9h0M1018.4 236.3h0M1018.6 235.7h0M1018.7 234.3h0M1018.8 235.0h0M1018.9 234.2h0M1019.0 234.6h0M1019.1 232.9h0M1019.2 234.4h0M1019.3 232.2h0M1019.5 234.3h0M1019.6 234.1h0M1019.7 233.5h0M1019.8 233.0h0M1019.9 236.5h0M1020.0 232.9h0M1020.1 232.0h0M1020.3 233.5h0M1020.4 229.9h0M1020.5 230.6h0M1020.6 230.5h0M1020.7 231.0h0M1020.8 230.0h0M1020.9 232.5h0M1021.0 231.1h0M1021.2 228.2h0M1021.3 229.5h0M1021.4 228.2h0M1021.5 229.0h0M1021.6 227.4h0M1021.7 225.9h0M1021.8 227.3h0M1021.9 224.9h0M1022.1 226.2h0M1022.2 226.3h0M1022.3 225.1h0M1022.4 225.7h0M1022.5 224.3h0M1022.6 225.1h0M1022.7 222.9h0M1022.8 222.0h0M1023.0 223.2h0M1023.1 222.8h0M1023.2 222.1h0M1023.3 221.6h0M1023.4 222.6h0M1023.5 225.6h0M1023.6 225.0h0M1023.7 223.5h0M1023.8 220.6h0M1024.0 221.6h0M1024.1 220.8h0M1024.2 221.2h0M1024.3 219.5h0M1024.4 220.0h0M1024.5 219.3h0M1024.6 218.2h0M1024.7 217.5h0M1024.9 217.7h0M1025.0 219.2h0M1025.1 218.2h0M1025.2 217.1h0M1025.3 215.5h0M1025.4 217.4h0M1025.5 216.3h0M1025.6 215.5h0M1025.7 218.5h0M1025.9 217.6h0M1026.0 220.6h0M1026.1 219.6h0M1026.2 221.5h0M1026.3 219.3h0M1026.4 221.3h0M1026.5 221.6h0M1026.6 223.8h0M1026.7 221.8h0M1026.9 221.9h0M1027.0 220.4h0M1027.1 221.2h0M1027.2 225.1h0M1027.3 225.2h0M1027.4 223.6h0M1027.5 224.3h0M1027.6 227.2h0M1027.7 228.2h0M1027.9 228.4h0M1028.0 232.5h0M1028.1 232.8h0M1028.2 235.2h0M1028.3 234.4h0M1028.4 238.5h0M1028.5 239.6h0M1028.6 243.7h0M1028.7 244.3h0M1028.9 241.9h0M1029.0 242.9h0M1029.1 244.2h0M1029.2 240.4h0M1029.3 238.0h0M1029.4 237.1h0M1029.5 235.7h0M1029.6 236.2h0M1029.7 237.0h0M1029.9 238.2h0M1030.0 235.2h0M1030.1 235.6h0M1030.2 237.3h0M1030.3 235.1h0M1030.4 236.7h0M1030.5 237.6h0M1030.6 235.5h0M1030.7 235.7h0M1030.8 234.9h0M1031.0 233.5h0M1031.1 232.7h0M1031.2 232.8h0M1031.3 233.5h0M1031.4 232.6h0M1031.5 233.4h0M1031.6 232.3h0M1031.7 232.1h0M1031.8 230.4h0M1031.9 233.7h0M1032.1 230.3h0M1032.2 232.0h0M1032.3 229.3h0M1032.4 228.1h0M1032.5 229.8h0M1032.6 230.8h0M1032.7 227.1h0M1032.8 228.6h0M1032.9 228.5h0M1033.0 227.9h0M1033.2 226.3h0M1033.3 228.9h0M1033.4 226.9h0M1033.5 227.4h0M1033.6 226.6h0M1033.7 227.5h0M1033.8 223.9h0M1033.9 224.1h0M1034.0 223.1h0M1034.1 223.9h0M1034.2 223.2h0M1034.4 224.2h0M1034.5 225.7h0M1034.6 222.2h0M1034.7 224.3h0M1034.8 221.2h0M1034.9 222.3h0M1035.0 222.4h0M1035.1 221.7h0M1035.2 220.2h0M1035.3 220.5h0M1035.4 221.0h0M1035.6 222.5h0M1035.7 219.9h0M1035.8 221.7h0M1035.9 218.6h0M1036.0 219.4h0M1036.1 217.8h0M1036.2 218.6h0M1036.3 217.5h0M1036.4 216.1h0M1036.5 215.0h0M1036.6 216.1h0M1036.8 215.5h0M1036.9 218.0h0M1037.0 217.3h0M1037.1 216.7h0M1037.2 216.0h0M1037.3 217.0h0M1037.4 216.9h0M1037.5 217.0h0M1037.6 218.6h0M1037.7 218.2h0M1037.8 220.2h0M1037.9 216.5h0M1038.1 219.1h0M1038.2 217.7h0M1038.3 218.3h0M1038.4 218.9h0M1038.5 220.4h0M1038.6 217.4h0M1038.7 218.4h0M1038.8 218.6h0M1038.9 219.4h0M1039.0 219.4h0M1039.1 219.4h0M1039.2 216.3h0M1039.4 215.0h0M1039.5 216.8h0M1039.6 216.1h0M1039.7 216.4h0M1039.8 218.6h0M1039.9 216.4h0M1040.0 216.3h0M1040.1 216.4h0M1040.2 217.0h0M1040.3 219.7h0M1040.4 219.0h0M1040.5 221.6h0M1040.7 219.7h0M1040.8 219.4h0M1040.9 221.7h0M1041.0 219.0h0M1041.1 222.2h0M1041.2 220.1h0M1041.3 218.0h0M1041.4 219.3h0M1041.5 218.9h0M1041.6 217.4h0M1041.7 218.5h0M1041.8 218.3h0M1041.9 219.7h0M1042.1 221.3h0M1042.2 221.5h0M1042.3 218.2h0M1042.4 218.8h0M1042.5 216.6h0M1042.6 219.3h0M1042.7 219.4h0M1042.8 221.2h0M1042.9 221.4h0M1043.0 221.4h0M1043.1 220.2h0M1043.2 219.9h0M1043.3 219.2h0M1043.4 216.5h0M1043.6 217.3h0M1043.7 216.0h0M1043.8 214.1h0M1043.9 214.5h0M1044.0 214.2h0M1044.1 209.9h0M1044.2 212.5h0M1044.3 211.8h0M1044.4 213.2h0M1044.5 213.3h0M1044.6 214.7h0M1044.7 211.1h0M1044.8 212.4h0M1044.9 210.2h0M1045.1 212.6h0M1045.2 211.4h0M1045.3 208.8h0M1045.4 212.0h0M1045.5 212.5h0M1045.6 214.7h0M1045.7 211.5h0M1045.8 210.9h0M1045.9 209.8h0M1046.0 210.4h0M1046.1 213.3h0M1046.2 212.5h0M1046.3 212.3h0M1046.4 213.8h0M1046.5 214.4h0M1046.7 214.0h0M1046.8 215.6h0M1046.9 214.9h0M1047.0 216.5h0M1047.1 215.6h0M1047.2 217.1h0M1047.3 213.7h0M1047.4 216.1h0M1047.5 215.9h0M1047.6 218.9h0M1047.7 217.5h0M1047.8 216.4h0M1047.9 217.4h0M1048.0 217.1h0M1048.1 218.2h0M1048.2 218.9h0M1048.3 220.0h0M1048.5 219.2h0M1048.6 219.9h0M1048.7 217.0h0M1048.8 217.3h0M1048.9 213.8h0M1049.0 212.9h0M1049.1 214.2h0M1049.2 215.6h0M1049.3 214.7h0M1049.4 213.6h0M1049.5 214.7h0M1049.6 212.4h0M1049.7 213.1h0M1049.8 214.6h0M1049.9 214.3h0M1050.0 216.5h0M1050.1 217.7h0M1050.3 218.5h0M1050.4 219.4h0M1050.5 218.4h0M1050.6 218.4h0M1050.7 215.3h0M1050.8 215.7h0M1050.9 214.8h0M1051.0 214.6h0M1051.1 213.8h0M1051.2 215.0h0M1051.3 213.1h0M1051.4 213.4h0M1051.5 212.6h0M1051.6 213.5h0M1051.7 212.7h0M1051.8 214.2h0M1051.9 214.3h0M1052.0 214.5h0M1052.2 214.1h0M1052.3 213.5h0M1052.4 214.3h0M1052.5 210.8h0M1052.6 211.8h0M1052.7 210.7h0M1052.8 209.3h0M1052.9 208.8h0M1053.0 206.9h0M1053.1 205.9h0M1053.2 207.2h0M1053.3 208.4h0M1053.4 206.2h0M1053.5 204.8h0M1053.6 202.6h0M1053.7 203.3h0M1053.8 205.7h0M1053.9 207.2h0M1054.0 202.8h0M1054.1 203.1h0M1054.2 200.5h0M1054.4 200.7h0M1054.5 201.4h0M1054.6 201.7h0M1054.7 202.0h0M1054.8 199.5h0M1054.9 199.2h0M1055.0 199.5h0M1055.1 198.3h0M1055.2 196.5h0M1055.3 195.8h0M1055.4 196.0h0M1055.5 196.8h0M1055.6 196.5h0M1055.7 195.6h0M1055.8 195.0h0M1055.9 196.5h0M1056.0 193.9h0M1056.1 192.7h0M1056.2 191.2h0M1056.3 193.4h0M1056.4 191.7h0M1056.5 191.6h0M1056.6 193.3h0M1056.8 195.5h0M1056.9 195.6h0M1057.0 193.1h0M1057.1 191.9h0M1057.2 195.0h0M1057.3 193.6h0M1057.4 194.1h0M1057.5 192.9h0M1057.6 190.4h0M1057.7 190.2h0M1057.8 191.6h0M1057.9 191.8h0M1058.0 191.5h0M1058.1 193.0h0M1058.2 190.6h0M1058.3 190.6h0M1058.4 191.5h0M1058.5 191.2h0M1058.6 192.9h0M1058.7 190.6h0M1058.8 188.0h0M1058.9 185.8h0M1059.0 185.6h0M1059.1 184.0h0M1059.2 183.6h0M1059.3 183.0h0M1059.4 182.0h0M1059.6 180.9h0M1059.7 179.6h0M1059.8 178.9h0M1059.9 177.6h0M1060.0 176.1h0M1060.1 178.3h0M1060.2 176.7h0M1060.3 177.9h0M1060.4 176.0h0M1060.5 174.1h0M1060.6 171.9h0M1060.7 171.3h0M1060.8 169.7h0M1060.9 166.7h0M1061.0 165.3h0M1061.1 164.7h0M1061.2 164.4h0M1061.3 165.8h0M1061.4 166.4h0M1061.5 166.9h0M1061.6 167.8h0M1061.7 170.0h0M1061.8 168.3h0M1061.9 170.2h0M1062.0 169.5h0M1062.1 170.4h0M1062.2 170.5h0M1062.3 173.0h0M1062.4 174.3h0M1062.5 174.0h0M1062.6 170.7h0M1062.7 171.0h0M1062.8 173.3h0M1063.0 169.4h0M1063.1 167.0h0M1063.2 168.4h0M1063.3 167.7h0M1063.4 166.8h0M1063.5 164.9h0M1063.6 163.9h0M1063.7 161.7h0M1063.8 161.7h0M1063.9 162.5h0M1064.0 163.0h0M1064.1 162.2h0M1064.2 162.7h0M1064.3 162.1h0M1064.4 160.8h0M1064.5 159.1h0M1064.6 159.5h0M1064.7 159.1h0M1064.8 157.4h0M1064.9 155.0h0M1065.0 156.3h0M1065.1 154.1h0M1065.2 151.2h0M1065.3 152.8h0M1065.4 150.0h0M1065.5 151.5h0M1065.6 151.1h0M1065.7 155.0h0M1065.8 157.4h0M1065.9 158.9h0M1066.0 156.0h0M1066.1 160.1h0M1066.2 160.8h0M1066.3 158.8h0M1066.4 157.8h0M1066.5 155.5h0M1066.6 153.7h0M1066.7 152.8h0M1066.8 150.6h0M1066.9 149.6h0M1067.0 147.6h0M1067.1 147.0h0M1067.2 147.7h0M1067.3 148.9h0M1067.4 148.6h0M1067.5 147.3h0M1067.6 151.0h0M1067.8 150.2h0M1067.9 153.5h0M1068.0 153.1h0M1068.1 153.6h0M1068.2 153.6h0M1068.3 153.9h0M1068.4 153.6h0M1068.5 152.7h0M1068.6 154.5h0M1068.7 153.6h0M1068.8 156.0h0M1068.9 156.0h0M1069.0 154.0h0M1069.1 154.1h0M1069.2 152.5h0M1069.3 152.9h0M1069.4 153.7h0M1069.5 149.7h0M1069.6 150.8h0M1069.7 149.7h0M1069.8 149.2h0M1069.9 148.6h0M1070.0 149.4h0M1070.1 149.0h0M1070.2 148.2h0M1070.3 147.6h0M1070.4 145.5h0M1070.5 144.8h0M1070.6 143.6h0M1070.7 147.8h0M1070.8 147.6h0M1070.9 146.7h0M1071.0 149.5h0M1071.1 148.8h0M1071.2 148.4h0M1071.3 148.7h0M1071.4 151.2h0M1071.5 153.0h0M1071.6 154.1h0M1071.7 155.0h0M1071.8 155.3h0M1071.9 156.9h0M1072.0 158.7h0M1072.1 157.8h0M1072.2 159.4h0M1072.3 157.5h0M1072.4 157.6h0M1072.5 157.0h0M1072.6 156.4h0M1072.7 156.5h0M1072.8 158.2h0M1072.9 157.6h0M1073.0 156.3h0M1073.1 153.7h0M1073.2 154.6h0M1073.3 154.4h0M1073.4 152.9h0M1073.5 155.1h0M1073.6 155.8h0M1073.7 159.4h0M1073.8 161.0h0M1073.9 161.1h0M1074.0 163.7h0M1074.1 166.0h0M1074.2 166.1h0M1074.3 165.9h0M1074.4 167.6h0M1074.5 167.4h0M1074.6 168.6h0M1074.7 169.9h0M1074.8 171.0h0M1074.9 170.5h0M1075.0 168.8h0M1075.1 169.3h0M1075.2 169.7h0M1075.3 169.2h0M1075.4 169.2h0M1075.5 171.1h0M1075.6 169.0h0M1075.7 169.8h0M1075.8 171.1h0M1075.9 170.9h0M1076.0 171.6h0M1076.1 170.6h0M1076.2 167.5h0M1076.3 168.3h0M1076.4 168.0h0M1076.5 169.3h0M1076.6 166.6h0M1076.7 167.2h0M1076.8 166.5h0M1076.9 167.3h0M1077.0 168.7h0M1077.1 169.9h0M1077.2 170.4h0M1077.3 172.7h0M1077.4 171.3h0M1077.5 172.5h0M1077.6 177.0h0M1077.7 173.8h0M1077.8 171.7h0M1077.9 172.7h0M1078.0 169.4h0M1078.1 171.0h0M1078.2 170.3h0M1078.3 172.2h0M1078.4 174.9h0M1078.5 174.6h0M1078.6 172.6h0M1078.7 172.9h0M1078.8 176.5h0M1078.9 174.3h0M1079.0 175.6h0M1079.1 175.7h0M1079.2 176.9h0M1079.3 174.2h0M1079.4 173.9h0M1079.5 175.2h0M1079.6 174.4h0M1079.7 170.2h0M1079.8 173.1h0M1079.9 174.0h0M1080.0 176.0h0M1080.1 176.0h0M1080.2 175.0h0M1080.3 176.0h0M1080.4 176.8h0M1080.5 175.9h0M1080.6 175.0h0M1080.7 174.5h0M1080.8 175.0h0M1080.9 172.4h0M1081.0 172.1h0M1081.1 170.1h0M1081.2 170.1h0M1081.3 169.7h0M1081.4 166.5h0M1081.5 167.7h0M1081.6 165.0h0M1081.7 162.5h0M1081.7 164.4h0M1081.8 163.7h0M1081.9 164.0h0M1082.0 162.1h0M1082.1 164.6h0M1082.2 161.7h0M1082.3 162.1h0M1082.4 159.7h0M1082.5 161.4h0M1082.6 158.6h0M1082.7 161.3h0M1082.8 158.7h0M1082.9 160.8h0M1083.0 160.2h0M1083.1 160.9h0M1083.2 159.1h0M1083.3 156.9h0M1083.4 157.8h0M1083.5 155.0h0M1083.6 156.4h0M1083.7 158.5h0M1083.8 159.0h0M1083.9 159.2h0M1084.0 159.9h0M1084.1 158.3h0M1084.2 157.9h0M1084.3 159.8h0M1084.4 158.6h0M1084.5 159.1h0M1084.6 159.5h0M1084.7 158.9h0M1084.8 157.4h0M1084.9 157.7h0M1085.0 154.8h0M1085.1 152.8h0M1085.2 155.2h0M1085.3 154.2h0M1085.4 155.9h0M1085.5 153.7h0M1085.6 156.5h0M1085.7 156.0h0M1085.8 156.7h0M1085.9 159.0h0M1086.0 159.6h0M1086.1 158.2h0M1086.2 160.8h0M1086.3 160.2h0M1086.4 160.6h0M1086.5 163.0h0M1086.5 164.7h0M1086.6 164.8h0M1086.7 164.6h0M1086.8 163.1h0M1086.9 162.5h0M1087.0 164.5h0M1087.1 162.3h0M1087.2 161.6h0M1087.3 160.6h0M1087.4 163.9h0M1087.5 162.7h0M1087.6 160.2h0M1087.7 160.8h0M1087.8 158.9h0M1087.9 160.5h0M1088.0 160.0h0M1088.1 158.4h0M1088.2 156.4h0M1088.3 156.7h0M1088.4 156.3h0M1088.5 155.6h0M1088.6 153.1h0M1088.7 152.6h0M1088.8 152.0h0M1088.9 151.5h0M1089.0 150.6h0M1089.1 149.9h0M1089.2 147.9h0M1089.3 146.4h0M1089.4 145.2h0M1089.5 145.8h0M1089.6 147.9h0M1089.7 145.0h0M1089.8 147.4h0M1089.8 148.3h0M1089.9 146.8h0M1090.0 146.6h0M1090.1 146.2h0M1090.2 146.6h0M1090.3 144.9h0M1090.4 144.4h0M1090.5 145.2h0M1090.6 144.0h0M1090.7 145.1h0M1090.8 141.7h0M1090.9 145.6h0M1091.0 143.5h0M1091.1 143.6h0M1091.2 145.5h0M1091.3 144.8h0M1091.4 146.1h0M1091.5 144.6h0M1091.6 144.7h0M1091.7 146.2h0M1091.8 146.2h0M1091.9 145.4h0M1092.0 146.3h0M1092.1 146.7h0M1092.2 147.1h0M1092.3 149.5h0M1092.4 146.8h0M1092.5 147.1h0M1092.5 148.6h0M1092.6 150.7h0M1092.7 150.6h0M1092.8 150.0h0M1092.9 152.1h0M1093.0 153.2h0M1093.1 151.8h0M1093.2 152.1h0M1093.3 151.0h0M1093.4 151.8h0M1093.5 152.9h0M1093.6 153.7h0M1093.7 155.8h0M1093.8 155.4h0M1093.9 156.6h0M1094.0 156.1h0M1094.1 155.0h0M1094.2 155.1h0M1094.3 156.3h0M1094.4 155.8h0M1094.5 156.8h0M1094.6 156.4h0M1094.7 156.0h0M1094.8 154.2h0M1094.8 155.7h0M1094.9 155.3h0M1095.0 158.0h0M1095.1 156.8h0M1095.2 155.7h0M1095.3 153.9h0M1095.4 155.2h0M1095.5 154.5h0M1095.6 156.7h0M1095.7 156.6h0M1095.8 159.8h0M1095.9 159.2h0M1096.0 158.3h0M1096.1 160.2h0M1096.2 160.6h0M1096.3 162.1h0M1096.4 159.7h0M1096.5 161.5h0M1096.6 161.9h0M1096.7 159.9h0M1096.8 161.1h0M1096.9 161.2h0M1096.9 162.3h0M1097.0 164.0h0M1097.1 163.9h0M1097.2 164.9h0M1097.3 165.2h0M1097.4 164.4h0M1097.5 164.4h0M1097.6 164.1h0M1097.7 166.6h0M1097.8 163.8h0M1097.9 169.7h0M1098.0 168.8h0M1098.1 171.4h0M1098.2 171.0h0M1098.3 171.0h0M1098.4 169.4h0M1098.5 169.7h0M1098.6 169.5h0M1098.7 170.4h0M1098.8 170.3h0M1098.8 169.4h0M1098.9 169.1h0M1099.0 168.4h0M1099.1 166.7h0M1099.2 166.3h0M1099.3 167.6h0M1099.4 169.8h0M1099.5 166.9h0M1099.6 166.3h0M1099.7 168.8h0M1099.8 166.4h0M1099.9 167.4h0M1100.0 166.1h0M1100.1 164.6h0M1100.2 164.0h0M1100.3 161.7h0M1100.4 164.0h0M1100.5 162.9h0M1100.6 162.3h0M1100.6 162.8h0M1100.7 161.7h0M1100.8 161.5h0M1100.9 164.1h0M1101.0 164.3h0M1101.1 163.2h0M1101.2 164.6h0M1101.3 165.5h0M1101.4 167.1h0M1101.5 165.9h0M1101.6 166.5h0M1101.7 167.4h0M1101.8 166.0h0M1101.9 168.3h0M1102.0 168.3h0M1102.1 168.3h0M1102.2 165.6h0M1102.2 165.2h0M1102.3 163.6h0M1102.4 164.1h0M1102.5 163.1h0M1102.6 164.8h0M1102.7 163.8h0M1102.8 165.7h0M1102.9 162.6h0M1103.0 163.1h0M1103.1 163.2h0M1103.2 161.8h0M1103.3 162.9h0M1103.4 161.7h0M1103.5 162.4h0M1103.6 161.2h0M1103.7 163.2h0M1103.8 161.7h0M1103.8 160.8h0M1103.9 161.8h0M1104.0 164.3h0M1104.1 163.8h0M1104.2 165.1h0M1104.3 160.4h0M1104.4 161.7h0M1104.5 162.2h0M1104.6 159.5h0M1104.7 159.3h0M1104.8 159.1h0M1104.9 159.9h0M1105.0 161.7h0M1105.1 161.0h0M1105.2 160.4h0M1105.3 160.9h0M1105.3 160.8h0M1105.4 163.1h0M1105.5 163.9h0M1105.6 162.7h0M1105.7 165.1h0M1105.8 165.3h0M1105.9 164.2h0M1106.0 163.6h0M1106.1 164.5h0M1106.2 164.4h0M1106.3 165.0h0M1106.4 162.6h0M1106.5 162.8h0M1106.6 161.8h0M1106.7 162.9h0M1106.7 164.0h0M1106.8 164.7h0M1106.9 164.3h0M1107.0 165.7h0M1107.1 163.4h0M1107.2 165.8h0M1107.3 166.0h0M1107.4 166.4h0M1107.5 165.9h0M1107.6 167.3h0M1107.7 165.0h0M1107.8 168.6h0M1107.9 167.9h0M1108.0 171.9h0M1108.0 173.5h0M1108.1 175.8h0M1108.2 176.4h0M1108.3 175.7h0M1108.4 175.4h0M1108.5 176.3h0M1108.6 175.3h0M1108.7 177.2h0M1108.8 176.5h0M1108.9 177.6h0M1109.0 178.8h0M1109.1 181.0h0M1109.2 178.2h0M1109.3 181.5h0M1109.3 178.7h0M1109.4 179.6h0M1109.5 181.7h0M1109.6 179.9h0M1109.7 182.2h0M1109.8 178.7h0M1109.9 179.5h0M1110.0 179.6h0M1110.1 179.8h0M1110.2 179.0h0M1110.3 177.9h0M1110.4 178.8h0M1110.5 177.5h0M1110.5 176.2h0M1110.6 176.3h0M1110.7 178.0h0M1110.8 178.2h0M1110.9 178.0h0M1111.0 181.2h0M1111.1 179.5h0M1111.2 181.0h0M1111.3 182.8h0M1111.4 182.4h0M1111.5 186.4h0M1111.6 184.1h0M1111.7 186.6h0M1111.7 187.7h0M1111.8 190.7h0M1111.9 189.0h0M1112.0 190.9h0M1112.1 191.1h0M1112.2 194.7h0M1112.3 194.1h0M1112.4 193.3h0M1112.5 192.6h0M1112.6 193.4h0M1112.7 190.8h0M1112.8 193.1h0M1112.9 191.8h0M1112.9 192.7h0M1113.0 192.8h0M1113.1 192.4h0M1113.2 192.1h0M1113.3 193.8h0M1113.4 191.9h0M1113.5 191.5h0M1113.6 190.2h0M1113.7 187.9h0M1113.8 187.9h0M1113.9 189.2h0M1114.0 189.3h0M1114.0 186.9h0M1114.1 187.5h0M1114.2 188.5h0M1114.3 188.0h0M1114.4 188.1h0M1114.5 187.4h0M1114.6 187.0h0M1114.7 188.4h0M1114.8 188.3h0M1114.9 187.3h0M1115.0 184.3h0M1115.1 186.7h0M1115.1 188.2h0M1115.2 184.1h0M1115.3 183.8h0M1115.4 183.5h0M1115.5 183.5h0M1115.6 183.6h0M1115.7 182.3h0M1115.8 184.3h0M1115.9 182.3h0M1116.0 187.2h0M1116.1 185.9h0M1116.1 185.1h0M1116.2 185.9h0M1116.3 185.2h0M1116.4 183.4h0M1116.5 182.5h0M1116.6 186.3h0M1116.7 184.9h0M1116.8 186.7h0M1116.9 186.8h0M1117.0 186.5h0M1117.1 187.0h0M1117.2 187.3h0M1117.2 185.2h0M1117.3 184.5h0M1117.4 185.4h0M1117.5 184.2h0M1117.6 184.1h0M1117.7 185.1h0M1117.8 184.1h0M1117.9 183.1h0M1118.0 185.7h0M1118.1 185.7h0M1118.2 186.9h0M1118.2 184.8h0M1118.3 187.4h0M1118.4 187.7h0M1118.5 188.6h0M1118.6 190.7h0M1118.7 189.5h0M1118.8 191.9h0M1118.9 189.7h0M1119.0 191.1h0M1119.1 190.4h0M1119.1 191.3h0M1119.2 191.1h0M1119.3 193.7h0M1119.4 192.9h0M1119.5 192.0h0M1119.6 192.9h0M1119.7 194.9h0M1119.8 196.1h0M1119.9 197.9h0M1120.0 193.0h0M1120.1 195.6h0M1120.1 195.8h0M1120.2 195.1h0M1120.3 199.1h0M1120.4 197.3h0M1120.5 196.2h0M1120.6 196.7h0M1120.7 195.2h0M1120.8 196.1h0M1120.9 194.7h0M1121.0 195.6h0M1121.0 195.5h0M1121.1 195.0h0M1121.2 195.3h0M1121.3 194.2h0M1121.4 194.5h0M1121.5 196.3h0M1121.6 196.4h0M1121.7 195.1h0M1121.8 193.3h0M1121.9 192.4h0M1122.0 191.1h0M1122.0 190.7h0M1122.1 190.5h0M1122.2 191.3h0M1122.3 192.5h0M1122.4 190.3h0M1122.5 190.8h0M1122.6 189.7h0M1122.7 191.3h0M1122.8 189.9h0M1122.9 188.3h0M1122.9 188.6h0M1123.0 189.0h0M1123.1 190.2h0M1123.2 189.3h0M1123.3 189.1h0M1123.4 188.2h0M1123.5 188.9h0M1123.6 189.0h0M1123.7 188.8h0M1123.7 187.7h0M1123.8 188.0h0M1123.9 188.1h0M1124.0 191.0h0M1124.1 190.4h0M1124.2 190.3h0M1124.3 193.5h0M1124.4 194.2h0M1124.5 192.7h0M1124.6 193.6h0M1124.6 193.7h0M1124.7 189.7h0M1124.8 189.3h0M1124.9 189.1h0M1125.0 192.9h0M1125.1 192.4h0M1125.2 194.8h0M1125.3 196.3h0M1125.4 197.4h0M1125.5 199.7h0M1125.5 199.2h0M1125.6 198.2h0M1125.7 197.8h0M1125.8 196.9h0M1125.9 197.6h0M1126.0 195.7h0M1126.1 197.8h0M1126.2 196.4h0M1126.3 197.4h0M1126.3 197.2h0M1126.4 195.3h0M1126.5 194.7h0M1126.6 198.5h0M1126.7 198.3h0M1126.8 197.9h0M1126.9 197.6h0M1127.0 196.7h0M1127.1 197.5h0M1127.1 197.3h0M1127.2 196.8h0M1127.3 197.7h0M1127.4 196.2h0M1127.5 196.0h0M1127.6 196.9h0M1127.7 197.3h0M1127.8 193.1h0M1127.9 194.9h0M1127.9 193.1h0M1128.0 194.2h0M1128.1 195.1h0M1128.2 194.8h0M1128.3 192.7h0M1128.4 193.0h0M1128.5 193.5h0M1128.6 195.7h0M1128.7 198.2h0M1128.7 195.6h0M1128.8 197.0h0M1128.9 196.3h0M1129.0 198.2h0M1129.1 198.1h0M1129.2 199.1h0M1129.3 199.1h0M1129.4 198.5h0M1129.5 196.0h0M1129.5 197.9h0M1129.6 198.1h0M1129.7 197.8h0M1129.8 198.3h0M1129.9 200.5h0M1130.0 198.4h0M1130.1 198.2h0M1130.2 197.4h0M1130.3 197.4h0M1130.3 195.7h0M1130.4 194.5h0M1130.5 195.2h0M1130.6 193.9h0M1130.7 193.6h0M1130.8 193.4h0M1130.9 190.4h0M1131.0 193.4h0M1131.0 192.1h0M1131.1 189.1h0M1131.2 189.4h0M1131.3 188.9h0M1131.4 190.2h0M1131.5 187.6h0M1131.6 187.3h0M1131.7 187.2h0M1131.8 185.4h0M1131.8 186.4h0M1131.9 184.0h0M1132.0 185.8h0M1132.1 186.3h0M1132.2 186.1h0M1132.3 184.7h0M1132.4 185.4h0M1132.5 186.5h0M1132.5 186.1h0M1132.6 184.8h0M1132.7 183.4h0M1132.8 182.4h0M1132.9 184.2h0M1133.0 183.9h0M1133.1 181.7h0M1133.2 181.4h0M1133.2 182.6h0M1133.3 182.7h0M1133.4 184.5h0M1133.5 184.7h0M1133.6 184.0h0M1133.7 183.9h0M1133.8 183.9h0M1133.9 182.4h0M1134.0 183.7h0M1134.0 183.9h0M1134.1 184.9h0M1134.2 185.5h0M1134.3 186.6h0M1134.4 184.1h0M1134.5 181.2h0M1134.6 182.1h0M1134.7 182.6h0M1134.7 183.3h0M1134.8 184.0h0M1134.9 184.8h0M1135.0 184.6h0M1135.1 186.4h0M1135.2 187.9h0M1135.3 188.4h0M1135.4 187.5h0M1135.4 189.8h0M1135.5 188.8h0M1135.6 188.4h0M1135.7 189.4h0M1135.8 187.4h0M1135.9 188.5h0M1136.0 190.0h0M1136.1 189.5h0M1136.1 188.6h0M1136.2 188.5h0M1136.3 187.9h0M1136.4 185.7h0M1136.5 186.1h0M1136.6 182.3h0M1136.7 181.0h0M1136.7 179.8h0M1136.8 178.4h0M1136.9 176.4h0M1137.0 176.4h0M1137.1 175.4h0M1137.2 172.2h0M1137.3 172.7h0M1137.4 172.4h0M1137.4 171.5h0M1137.5 170.9h0M1137.6 170.1h0M1137.7 172.3h0M1137.8 173.5h0M1137.9 174.2h0M1138.0 172.2h0M1138.1 173.0h0M1138.1 171.3h0M1138.2 174.4h0M1138.3 173.4h0M1138.4 171.1h0M1138.5 171.7h0M1138.6 173.4h0M1138.7 174.2h0M1138.8 173.4h0M1138.8 173.4h0M1138.9 174.5h0M1139.0 175.3h0M1139.1 176.8h0M1139.2 174.2h0M1139.3 174.6h0M1139.4 174.8h0M1139.4 174.8h0M1139.5 176.2h0M1139.6 176.2h0M1139.7 176.0h0M1139.8 174.5h0M1139.9 175.1h0M1140.0 175.9h0M1140.1 177.8h0M1140.1 177.4h0M1140.2 174.9h0M1140.3 175.8h0M1140.4 177.5h0M1140.5 176.1h0M1140.6 179.3h0M1140.7 178.9h0M1140.7 177.5h0M1140.8 177.6h0M1140.9 179.3h0M1141.0 179.3h0M1141.1 180.0h0M1141.2 180.0h0M1141.3 179.7h0M1141.3 179.1h0M1141.4 179.8h0M1141.5 178.6h0M1141.6 178.7h0M1141.7 178.7h0M1141.8 177.7h0M1141.9 178.7h0M1142.0 178.9h0M1142.0 178.0h0M1142.1 178.2h0M1142.2 180.2h0M1142.3 181.8h0M1142.4 183.5h0M1142.5 182.2h0M1142.6 181.7h0M1142.6 183.5h0M1142.7 180.3h0M1142.8 180.0h0M1142.9 180.3h0M1143.0 182.6h0M1143.1 181.4h0M1143.2 180.2h0M1143.2 179.7h0M1143.3 180.4h0M1143.4 180.7h0M1143.5 178.1h0M1143.6 178.8h0M1143.7 177.1h0M1143.8 181.6h0M1143.8 179.2h0M1143.9 182.2h0M1144.0 182.1h0M1144.1 181.1h0M1144.2 183.1h0M1144.3 183.5h0M1144.4 183.5h0M1144.4 181.8h0M1144.5 180.1h0M1144.6 179.3h0M1144.7 179.6h0M1144.8 179.8h0M1144.9 177.0h0M1145.0 177.2h0M1145.0 176.1h0M1145.1 175.8h0M1145.2 174.1h0M1145.3 174.5h0M1145.4 171.9h0M1145.5 172.8h0M1145.6 173.4h0M1145.6 171.4h0M1145.7 172.5h0M1145.8 173.6h0M1145.9 171.9h0M1146.0 171.9h0M1146.1 173.0h0M1146.2 173.0h0M1146.2 171.1h0M1146.3 174.7h0M1146.4 175.9h0M1146.5 174.5h0M1146.6 177.5h0M1146.7 174.9h0M1146.8 175.2h0M1146.8 175.2h0M1146.9 175.6h0M1147.0 177.6h0M1147.1 177.1h0M1147.2 177.9h0M1147.3 175.9h0M1147.3 177.0h0M1147.4 178.2h0M1147.5 177.1h0M1147.6 177.3h0M1147.7 177.7h0M1147.8 176.4h0M1147.9 177.6h0M1147.9 177.3h0M1148.0 179.2h0M1148.1 178.5h0M1148.2 180.9h0M1148.3 178.8h0M1148.4 179.1h0M1148.5 178.6h0M1148.5 176.8h0M1148.6 176.4h0M1148.7 178.2h0M1148.8 177.5h0M1148.9 177.9h0M1149.0 178.6h0M1149.0 176.7h0M1149.1 178.8h0M1149.2 179.4h0M1149.3 178.5h0M1149.4 179.0h0M1149.5 179.8h0M1149.6 178.7h0M1149.6 180.1h0M1149.7 180.5h0M1149.8 180.3h0M1149.9 181.1h0M1150.0 177.0h0M1150.1 177.0h0M1150.2 178.8h0M1150.2 177.4h0M1150.3 177.4h0M1150.4 176.2h0M1150.5 174.1h0M1150.6 175.6h0M1150.7 177.0h0M1150.7 175.3h0M1150.8 178.4h0M1150.9 177.4h0M1151.0 177.1h0M1151.1 179.5h0M1151.2 180.3h0M1151.2 178.3h0M1151.3 177.3h0M1151.4 180.7h0M1151.5 178.8h0M1151.6 178.2h0M1151.7 180.1h0M1151.8 182.6h0M1151.8 182.7h0M1151.9 180.7h0M1152.0 180.0h0M1152.1 182.1h0M1152.2 182.3h0M1152.3 182.5h0M1152.3 183.0h0M1152.4 182.3h0M1152.5 181.0h0M1152.6 180.0h0M1152.7 180.3h0M1152.8 181.7h0M1152.9 179.7h0M1152.9 179.3h0M1153.0 178.7h0M1153.1 179.5h0M1153.2 178.8h0M1153.3 181.7h0M1153.4 179.1h0M1153.4 179.1h0M1153.5 178.4h0M1153.6 178.0h0M1153.7 178.4h0M1153.8 175.1h0M1153.9 174.8h0M1153.9 174.7h0M1154.0 175.9h0M1154.1 176.4h0M1154.2 173.5h0M1154.3 174.2h0M1154.4 172.7h0M1154.4 172.5h0M1154.5 173.4h0M1154.6 172.0h0M1154.7 169.9h0M1154.8 172.7h0M1154.9 172.0h0M1154.9 174.3h0M1155.0 173.7h0M1155.1 171.2h0M1155.2 172.4h0M1155.3 173.1h0M1155.4 170.9h0M1155.5 169.6h0M1155.5 170.1h0M1155.6 169.7h0M1155.7 169.6h0M1155.8 168.7h0M1155.9 168.8h0M1156.0 171.0h0M1156.0 169.1h0M1156.1 167.5h0M1156.2 166.7h0M1156.3 165.6h0M1156.4 167.8h0M1156.5 166.4h0M1156.5 165.2h0M1156.6 166.5h0M1156.7 166.8h0M1156.8 166.9h0M1156.9 167.6h0M1157.0 169.3h0M1157.0 169.6h0M1157.1 167.9h0M1157.2 168.0h0M1157.3 168.6h0M1157.4 166.7h0M1157.5 167.2h0M1157.5 168.7h0M1157.6 164.9h0M1157.7 168.0h0M1157.8 167.3h0M1157.9 166.3h0M1158.0 167.9h0M1158.0 166.2h0M1158.1 166.7h0M1158.2 165.1h0M1158.3 165.5h0M1158.4 164.6h0M1158.5 162.5h0M1158.5 162.4h0M1158.6 162.9h0M1158.7 162.6h0M1158.8 162.9h0M1158.9 162.8h0M1159.0 160.3h0M1159.0 160.3h0M1159.1 160.1h0M1159.2 159.3h0M1159.3 161.1h0M1159.4 161.7h0M1159.4 162.3h0M1159.5 162.6h0M1159.6 161.7h0M1159.7 161.8h0M1159.8 160.3h0M1159.9 162.7h0M1159.9 161.7h0M1160.0 160.0h0M1160.1 160.2h0M1160.2 160.6h0M1160.3 159.7h0M1160.4 160.7h0M1160.4 161.4h0M1160.5 161.5h0M1160.6 160.0h0M1160.7 161.2h0M1160.8 158.8h0M1160.9 161.5h0M1160.9 159.6h0M1161.0 161.7h0M1161.1 161.5h0M1161.2 160.1h0M1161.3 156.1h0M1161.4 157.9h0M1161.4 159.0h0M1161.5 158.6h0M1161.6 157.0h0M1161.7 158.5h0M1161.8 159.0h0M1161.8 158.8h0M1161.9 159.6h0M1162.0 158.6h0M1162.1 159.8h0M1162.2 160.3h0M1162.3 160.1h0M1162.3 160.8h0M1162.4 163.1h0M1162.5 162.2h0M1162.6 162.2h0M1162.7 162.0h0M1162.8 162.0h0M1162.8 165.2h0M1162.9 164.5h0M1163.0 164.6h0M1163.1 166.7h0M1163.2 163.2h0M1163.2 162.2h0M1163.3 162.4h0M1163.4 159.4h0M1163.5 158.3h0M1163.6 158.7h0M1163.7 157.5h0M1163.7 158.2h0M1163.8 158.9h0M1163.9 158.4h0M1164.0 159.6h0M1164.1 159.8h0M1164.2 158.7h0M1164.2 158.5h0M1164.3 158.3h0M1164.4 157.4h0M1164.5 156.9h0M1164.6 157.8h0M1164.6 156.6h0M1164.7 157.5h0M1164.8 153.7h0M1164.9 155.2h0M1165.0 155.4h0M1165.1 154.9h0M1165.1 153.6h0M1165.2 153.4h0M1165.3 155.4h0M1165.4 152.0h0M1165.5 150.8h0M1165.5 150.6h0M1165.6 150.3h0M1165.7 148.2h0M1165.8 151.3h0M1165.9 150.3h0M1166.0 149.9h0M1166.0 146.4h0M1166.1 146.6h0M1166.2 147.5h0M1166.3 147.0h0M1166.4 146.7h0M1166.4 146.1h0M1166.5 148.3h0M1166.6 147.0h0M1166.7 145.9h0M1166.8 146.0h0M1166.9 143.7h0M1166.9 140.8h0M1167.0 143.5h0M1167.1 143.9h0M1167.2 140.9h0M1167.3 141.4h0M1167.3 142.2h0M1167.4 143.1h0M1167.5 143.1h0M1167.6 142.8h0M1167.7 144.3h0M1167.7 143.5h0M1167.8 146.0h0M1167.9 146.5h0M1168.0 145.8h0M1168.1 146.7h0M1168.2 142.9h0M1168.2 145.3h0M1168.3 144.3h0M1168.4 145.1h0M1168.5 142.9h0M1168.6 143.2h0M1168.6 144.1h0M1168.7 146.6h0M1168.8 145.3h0M1168.9 147.2h0M1169.0 143.2h0M1169.0 144.4h0M1169.1 143.9h0M1169.2 144.7h0M1169.3 144.4h0M1169.4 146.5h0M1169.5 147.8h0M1169.5 145.5h0M1169.6 148.8h0M1169.7 147.0h0M1169.8 146.2h0M1169.9 148.0h0M1169.9 150.0h0M1170.0 148.8h0M1170.1 151.5h0M1170.2 149.0h0M1170.3 148.7h0M1170.3 146.8h0M1170.4 144.8h0M1170.5 146.1h0M1170.6 149.4h0M1170.7 146.8h0M1170.7 148.0h0M1170.8 148.9h0M1170.9 148.9h0M1171.0 147.8h0M1171.1 150.5h0M1171.2 152.0h0M1171.2 151.9h0M1171.3 150.7h0M1171.4 149.1h0M1171.5 149.4h0M1171.6 148.7h0M1171.6 147.9h0M1171.7 147.9h0M1171.8 148.5h0M1171.9 145.6h0M1172.0 147.0h0M1172.0 148.4h0M1172.1 145.5h0M1172.2 145.9h0M1172.3 147.6h0M1172.4 145.4h0M1172.4 145.9h0M1172.5 147.6h0M1172.6 141.5h0M1172.7 142.7h0M1172.8 139.6h0M1172.8 141.9h0M1172.9 140.4h0M1173.0 141.9h0M1173.1 142.9h0M1173.2 141.1h0M1173.2 140.8h0M1173.3 141.7h0M1173.4 144.1h0M1173.5 142.4h0M1173.6 144.5h0M1173.7 144.3h0M1173.7 145.5h0M1173.8 143.0h0M1173.9 145.4h0M1174.0 146.8h0M1174.1 145.4h0M1174.1 143.1h0M1174.2 145.1h0M1174.3 144.9h0M1174.4 145.1h0M1174.5 144.5h0M1174.5 146.8h0M1174.6 144.5h0M1174.7 146.2h0M1174.8 147.9h0M1174.9 146.6h0M1174.9 147.8h0M1175.0 147.2h0M1175.1 145.8h0M1175.2 146.8h0M1175.3 146.5h0M1175.3 148.0h0M1175.4 147.9h0M1175.5 148.0h0M1175.6 149.8h0M1175.7 149.8h0M1175.7 151.7h0M1175.8 150.7h0M1175.9 150.6h0M1176.0 150.9h0M1176.1 150.2h0M1176.1 151.9h0M1176.2 151.9h0M1176.3 151.0h0M1176.4 151.2h0M1176.5 151.2h0M1176.5 151.0h0M1176.6 149.2h0M1176.7 148.6h0M1176.8 148.9h0M1176.9 148.1h0M1176.9 147.6h0M1177.0 148.6h0M1177.1 149.2h0M1177.2 151.9h0M1177.3 151.8h0M1177.3 149.8h0M1177.4 148.6h0M1177.5 149.1h0M1177.6 149.6h0M1177.7 145.2h0M1177.7 144.9h0M1177.8 145.0h0M1177.9 144.1h0M1178.0 144.5h0M1178.0 142.5h0M1178.1 144.4h0M1178.2 144.5h0M1178.3 144.8h0M1178.4 147.6h0M1178.4 149.6h0M1178.5 149.2h0M1178.6 149.5h0M1178.7 151.5h0M1178.8 153.1h0M1178.8 154.5h0M1178.9 151.1h0M1179.0 153.9h0M1179.1 151.1h0M1179.2 152.0h0M1179.2 150.8h0M1179.3 150.2h0M1179.4 150.0h0M1179.5 149.0h0M1179.6 150.1h0M1179.6 148.6h0M1179.7 148.6h0M1179.8 151.3h0M1179.9 148.1h0M1180.0 150.5h0M1180.0 149.8h0M1180.1 149.8h0M1180.2 151.1h0M1180.3 151.6h0M1180.4 152.1h0M1180.4 151.7h0M1180.5 151.4h0M1180.6 149.9h0M1180.7 148.8h0M1180.7 148.8h0M1180.8 148.6h0M1180.9 152.1h0M1181.0 152.5h0M1181.1 154.6h0M1181.1 152.3h0M1181.2 152.3h0M1181.3 154.8h0M1181.4 152.6h0M1181.5 153.4h0M1181.5 152.5h0M1181.6 151.1h0M1181.7 150.6h0M1181.8 148.2h0M1181.9 147.7h0M1181.9 146.7h0M1182.0 146.7h0M1182.1 145.6h0M1182.2 146.1h0M1182.2 146.1h0M1182.3 145.5h0M1182.4 145.1h0M1182.5 145.1h0M1182.6 145.5h0M1182.6 145.4h0M1182.7 145.5h0M1182.8 145.6h0M1182.9 146.0h0M1183.0 144.9h0M1183.0 144.9h0M1183.1 145.1h0M1183.2 149.6h0M1183.3 149.8h0M1183.3 149.5h0M1183.4 148.6h0M1183.5 150.3h0M1183.6 146.6h0M1183.7 150.0h0M1183.7 148.2h0M1183.8 151.0h0M1183.9 150.4h0M1184.0 151.7h0M1184.1 151.5h0M1184.1 151.4h0M1184.2 149.6h0M1184.3 149.8h0M1184.4 149.0h0M1184.4 146.7h0M1184.5 147.5h0M1184.6 146.9h0M1184.7 143.8h0M1184.8 144.8h0M1184.8 144.9h0M1184.9 142.7h0M1185.0 142.5h0M1185.1 142.6h0M1185.2 142.1h0M1185.2 144.2h0M1185.3 142.8h0M1185.4 142.7h0M1185.5 142.8h0M1185.5 142.7h0M1185.6 141.4h0M1185.7 139.4h0M1185.8 140.1h0M1185.9 140.2h0M1185.9 139.2h0M1186.0 138.8h0M1186.1 139.4h0M1186.2 136.9h0M1186.3 137.4h0M1186.3 137.8h0M1186.4 134.8h0M1186.5 136.1h0M1186.6 136.2h0M1186.6 135.2h0M1186.7 133.8h0M1186.8 135.4h0M1186.9 133.8h0M1187.0 134.5h0M1187.0 132.4h0M1187.1 132.7h0M1187.2 129.3h0M1187.3 130.7h0M1187.3 130.1h0M1187.4 130.9h0M1187.5 129.7h0M1187.6 132.2h0M1187.7 130.6h0M1187.7 130.0h0M1187.8 132.3h0M1187.9 132.2h0M1188.0 130.9h0M1188.0 130.0h0M1188.1 129.0h0M1188.2 128.4h0M1188.3 129.4h0M1188.4 129.9h0M1188.4 129.0h0M1188.5 129.9h0M1188.6 129.3h0M1188.7 131.8h0M1188.7 131.4h0M1188.8 130.1h0M1188.9 128.8h0M1189.0 130.1h0M1189.1 128.4h0M1189.1 129.4h0M1189.2 127.7h0M1189.3 127.8h0M1189.4 128.9h0M1189.4 130.8h0M1189.5 128.0h0M1189.6 127.4h0M1189.7 130.2h0M1189.8 130.9h0M1189.8 131.9h0M1189.9 133.6h0M1190.0 132.6h0M1190.1 133.4h0M1190.1 133.0h0M1190.2 132.0h0M1190.3 133.0h0M1190.4 133.8h0M1190.5 134.3h0M1190.5 134.3h0M1190.6 135.7h0M1190.7 133.0h0M1190.8 132.8h0M1190.8 132.8h0M1190.9 133.1h0M1191.0 134.2h0M1191.1 132.7h0M1191.1 133.7h0M1191.2 129.9h0M1191.3 130.3h0M1191.4 132.9h0M1191.5 130.0h0M1191.5 132.6h0M1191.6 132.1h0M1191.7 131.6h0M1191.8 130.5h0M1191.8 127.8h0M1191.9 128.8h0M1192.0 127.4h0M1192.1 127.8h0M1192.2 126.9h0M1192.2 124.3h0M1192.3 128.8h0M1192.4 125.5h0M1192.5 127.1h0M1192.5 129.6h0M1192.6 130.4h0M1192.7 128.5h0M1192.8 132.9h0M1192.8 129.7h0M1192.9 130.0h0M1193.0 129.9h0M1193.1 130.3h0M1193.2 131.9h0M1193.2 130.9h0M1193.3 129.9h0M1193.4 132.3h0M1193.5 131.0h0M1193.5 131.7h0M1193.6 133.7h0M1193.7 132.8h0M1193.8 132.9h0M1193.8 131.6h0M1193.9 133.5h0M1194.0 136.2h0M1194.1 132.3h0M1194.2 132.8h0M1194.2 135.8h0M1194.3 135.3h0M1194.4 134.7h0M1194.5 133.6h0M1194.5 132.9h0M1194.6 134.6h0M1194.7 134.5h0M1194.8 138.4h0M1194.8 136.1h0M1194.9 137.1h0M1195.0 137.6h0M1195.1 136.1h0M1195.1 136.6h0M1195.2 139.7h0M1195.3 138.8h0M1195.4 139.5h0M1195.5 139.2h0M1195.5 139.2h0M1195.6 141.3h0M1195.7 138.2h0M1195.8 137.1h0M1195.8 135.9h0M1195.9 134.9h0M1196.0 136.0h0M1196.1 134.4h0M1196.1 132.3h0M1196.2 134.5h0M1196.3 134.9h0M1196.4 134.6h0M1196.5 134.6h0M1196.5 135.1h0M1196.6 134.5h0M1196.7 136.8h0M1196.8 138.0h0M1196.8 137.2h0M1196.9 136.0h0M1197.0 137.6h0M1197.1 135.6h0M1197.1 135.8h0M1197.2 138.4h0M1197.3 138.5h0M1197.4 140.3h0M1197.4 139.8h0M1197.5 141.6h0M1197.6 141.2h0M1197.7 139.7h0M1197.7 141.4h0M1197.8 140.9h0M1197.9 141.4h0M1198.0 139.5h0M1198.1 136.9h0M1198.1 138.4h0M1198.2 137.3h0M1198.3 138.9h0M1198.4 137.7h0M1198.4 135.2h0M1198.5 137.8h0M1198.6 136.9h0M1198.7 136.7h0M1198.7 136.7h0M1198.8 135.1h0M1198.9 136.9h0M1199.0 135.3h0M1199.0 137.9h0M1199.1 137.2h0M1199.2 134.3h0M1199.3 134.9h0M1199.3 132.4h0M1199.4 132.2h0M1199.5 129.3h0M1199.6 132.0h0M1199.6 130.6h0M1199.7 129.6h0M1199.8 131.1h0M1199.9 130.5h0M1200.0 129.8h0M1200.0 129.5h0M1200.1 127.8h0M1200.2 129.0h0M1200.3 129.3h0M1200.3 130.0h0M1200.4 126.1h0M1200.5 127.8h0M1200.6 127.2h0M1200.6 124.2h0M1200.7 125.3h0M1200.8 125.7h0M1200.9 125.5h0M1200.9 125.3h0M1201.0 126.5h0M1201.1 127.2h0M1201.2 126.5h0M1201.2 125.3h0M1201.3 124.6h0M1201.4 124.9h0M1201.5 124.7h0M1201.5 127.5h0M1201.6 126.5h0M1201.7 126.2h0M1201.8 125.6h0M1201.8 123.0h0M1201.9 124.3h0M1202.0 124.9h0M1202.1 125.3h0M1202.1 127.9h0M1202.2 125.6h0M1202.3 125.5h0M1202.4 123.6h0M1202.4 124.7h0M1202.5 124.2h0M1202.6 124.5h0M1202.7 126.1h0M1202.7 125.7h0M1202.8 127.4h0M1202.9 128.0h0M1203.0 128.4h0M1203.0 128.1h0M1203.1 129.1h0M1203.2 130.2h0M1203.3 129.4h0M1203.4 130.0h0M1203.4 127.6h0M1203.5 129.4h0M1203.6 129.8h0M1203.7 130.5h0M1203.7 129.8h0M1203.8 130.2h0M1203.9 130.7h0M1204.0 132.0h0M1204.0 129.6h0M1204.1 131.3h0M1204.2 132.2h0M1204.3 131.2h0M1204.3 129.5h0M1204.4 128.0h0M1204.5 127.7h0M1204.6 126.1h0M1204.6 127.7h0M1204.7 126.2h0M1204.8 125.1h0M1204.9 122.3h0M1204.9 125.2h0M1205.0 123.3h0M1205.1 123.8h0M1205.2 120.9h0M1205.2 121.9h0M1205.3 121.7h0M1205.4 122.6h0M1205.5 121.4h0M1205.5 122.7h0M1205.6 121.4h0M1205.7 124.4h0M1205.8 122.7h0M1205.8 123.8h0M1205.9 124.0h0M1206.0 123.9h0M1206.1 124.2h0M1206.1 124.1h0M1206.2 123.9h0M1206.3 124.7h0M1206.4 123.0h0M1206.4 124.3h0M1206.5 123.6h0M1206.6 125.5h0M1206.6 124.1h0M1206.7 123.3h0M1206.8 123.2h0M1206.9 123.4h0M1206.9 121.5h0M1207.0 122.1h0M1207.1 122.2h0M1207.2 120.9h0M1207.2 119.2h0M1207.3 121.5h0M1207.4 120.2h0M1207.5 122.3h0M1207.5 121.2h0M1207.6 122.3h0M1207.7 119.7h0M1207.8 121.1h0M1207.8 121.2h0M1207.9 123.4h0M1208.0 123.5h0M1208.1 124.4h0M1208.1 124.5h0M1208.2 127.4h0M1208.3 126.6h0M1208.4 126.3h0M1208.4 128.9h0M1208.5 124.8h0M1208.6 125.6h0M1208.7 125.6h0M1208.7 126.0h0M1208.8 125.3h0M1208.9 127.3h0M1209.0 127.4h0M1209.0 127.6h0M1209.1 127.6h0M1209.2 124.7h0M1209.3 125.1h0M1209.3 127.4h0M1209.4 125.4h0M1209.5 125.9h0M1209.6 125.5h0M1209.6 123.5h0M1209.7 126.3h0M1209.8 126.1h0M1209.8 124.0h0M1209.9 127.0h0M1210.0 124.2h0M1210.1 125.4h0M1210.1 125.5h0M1210.2 126.1h0M1210.3 126.5h0M1210.4 124.8h0M1210.4 125.9h0M1210.5 126.5h0M1210.6 127.2h0M1210.7 126.0h0M1210.7 124.1h0M1210.8 126.3h0M1210.9 123.6h0M1211.0 122.2h0M1211.0 122.1h0M1211.1 121.9h0M1211.2 124.2h0M1211.3 123.4h0M1211.3 122.7h0M1211.4 125.0h0M1211.5 121.5h0M1211.6 120.4h0M1211.6 122.6h0M1211.7 123.8h0M1211.8 123.6h0M1211.8 126.1h0M1211.9 127.4h0M1212.0 127.6h0M1212.1 129.4h0M1212.1 125.7h0M1212.2 128.4h0M1212.3 127.4h0M1212.4 128.3h0M1212.4 129.3h0M1212.5 131.5h0M1212.6 134.2h0M1212.7 133.5h0M1212.7 130.6h0M1212.8 132.0h0M1212.9 131.2h0M1213.0 132.4h0M1213.0 132.5h0M1213.1 132.1h0M1213.2 132.8h0M1213.2 129.5h0M1213.3 131.8h0M1213.4 131.3h0M1213.5 131.7h0M1213.5 129.5h0M1213.6 128.4h0M1213.7 128.7h0M1213.8 130.1h0M1213.8 130.9h0M1213.9 131.8h0M1214.0 132.8h0M1214.1 129.5h0M1214.1 131.3h0M1214.2 131.6h0M1214.3 131.7h0M1214.4 133.1h0M1214.4 132.6h0M1214.5 133.5h0M1214.6 135.5h0M1214.6 135.2h0M1214.7 136.1h0M1214.8 135.8h0M1214.9 137.3h0M1214.9 136.5h0M1215.0 136.4h0M1215.1 138.4h0M1215.2 136.7h0M1215.2 136.2h0M1215.3 133.2h0M1215.4 135.2h0M1215.5 135.1h0M1215.5 135.4h0M1215.6 136.3h0M1215.7 131.5h0M1215.7 132.7h0M1215.8 132.7h0M1215.9 133.8h0M1216.0 133.2h0M1216.0 133.5h0M1216.1 133.6h0M1216.2 132.2h0M1216.3 134.5h0M1216.3 133.7h0M1216.4 135.2h0M1216.5 133.0h0M1216.5 135.9h0M1216.6 135.1h0M1216.7 134.8h0" stroke="#22ee22" stroke-width="3.6" stroke-linecap="round" fill="none"/>
<path d="M75.3 720.1H1271.2M75.3 704.6H1271.2M75.3 693.6H1271.2M75.3 685.0H1271.2M75.3 678.0H1271.2M75.3 672.1H1271.2M75.3 667.0H1271.2M75.3 662.5H1271.2M75.3 658.5H1271.2M75.3 632.0H1271.2M75.3 616.5H1271.2M75.3 605.5H1271.2M75.3 596.9H1271.2M75.3 589.9H1271.2M75.3 584.0H1271.2M75.3 578.9H1271.2M75.3 574.4H1271.2M75.3 570.4H1271.2M75.3 543.9H1271.2M75.3 528.4H1271.2M75.3 517.4H1271.2M75.3 508.8H1271.2M75.3 501.8H1271.2M75.3 495.9H1271.2M75.3 490.8H1271.2M75.3 486.3H1271.2M75.3 482.3H1271.2M75.3 455.8H1271.2M75.3 440.3H1271.2M75.3 429.3H1271.2M75.3 420.7H1271.2M75.3 413.7H1271.2M75.3 407.8H1271.2M75.3 402.7H1271.2M75.3 398.2H1271.2M75.3 394.2H1271.2M75.3 367.7H1271.2M75.3 352.2H1271.2M75.3 341.2H1271.2M75.3 332.6H1271.2M75.3 325.6H1271.2M75.3 319.7H1271.2M75.3 314.6H1271.2M75.3 310.1H1271.2M75.3 306.1H1271.2M75.3 279.6H1271.2M75.3 264.1H1271.2M75.3 253.1H1271.2M75.3 244.5H1271.2M75.3 237.5H1271.2M75.3 231.6H1271.2M75.3 226.5H1271.2M75.3 222.0H1271.2M75.3 218.0H1271.2M75.3 191.5H1271.2M75.3 176.0H1271.2M75.3 165.0H1271.2M75.3 156.4H1271.2M75.3 149.4H1271.2M75.3 143.5H1271.2M75.3 138.4H1271.2M75.3 133.9H1271.2M75.3 129.9H1271.2M75.3 103.4H1271.2M75.3 87.9H1271.2M75.3 76.9H1271.2M75.3 68.3H1271.2M75.3 61.3H1271.2M75.3 55.4H1271.2M75.3 50.3H1271.2M75.3 45.8H1271.2M75.3 41.8H1271.2" stroke="#ffffff" stroke-opacity="0.18" stroke-width="1" fill="none"/>
<path d="M78.6 38.6V733.2M161.0 38.6V733.2M230.7 38.6V733.2M291.1 38.6V733.2M344.4 38.6V733.2M705.6 38.6V733.2M889.0 38.6V733.2M1019.1 38.6V733.2M1120.1 38.6V733.2M1202.5 38.6V733.2M432.3 38.6V733.2M663.9 38.6V733.2M816.2 38.6V733.2M930.0 38.6V733.2M1020.8 38.6V733.2M1096.5 38.6V733.2M1161.2 38.6V733.2M1217.9 38.6V733.2" stroke="#ffffff" stroke-opacity="0.2" stroke-width="1" fill="none"/>
<path d="M129.8 593.2L1216.7 69.2" stroke="#c02828" stroke-opacity="0.5" stroke-width="1.3" stroke-dasharray="4.8 2.1" fill="none"/>
<path d="M129.8 700.4L1216.7 176.3" stroke="#70c0c0" stroke-opacity="0.62" stroke-width="1.3" stroke-dasharray="4.8 2.1" fill="none"/>
<path d="M129.8 646.8L1216.7 122.7" stroke="#f5a030" stroke-width="3.3" stroke-linecap="square" fill="none"/>
<rect x="75.3" y="38.6" width="1195.9" height="694.6" fill="none" stroke="#ffffff" stroke-width="1.1"/>
<path d="M75.3 720.1h-2.8M75.3 704.6h-2.8M75.3 693.6h-2.8M75.3 685.0h-2.8M75.3 678.0h-2.8M75.3 672.1h-2.8M75.3 667.0h-2.8M75.3 662.5h-2.8M75.3 658.5h-4.9M75.3 632.0h-2.8M75.3 616.5h-2.8M75.3 605.5h-2.8M75.3 596.9h-2.8M75.3 589.9h-2.8M75.3 584.0h-2.8M75.3 578.9h-2.8M75.3 574.4h-2.8M75.3 570.4h-4.9M75.3 543.9h-2.8M75.3 528.4h-2.8M75.3 517.4h-2.8M75.3 508.8h-2.8M75.3 501.8h-2.8M75.3 495.9h-2.8M75.3 490.8h-2.8M75.3 486.3h-2.8M75.3 482.3h-4.9M75.3 455.8h-2.8M75.3 440.3h-2.8M75.3 429.3h-2.8M75.3 420.7h-2.8M75.3 413.7h-2.8M75.3 407.8h-2.8M75.3 402.7h-2.8M75.3 398.2h-2.8M75.3 394.2h-4.9M75.3 367.7h-2.8M75.3 352.2h-2.8M75.3 341.2h-2.8M75.3 332.6h-2.8M75.3 325.6h-2.8M75.3 319.7h-2.8M75.3 314.6h-2.8M75.3 310.1h-2.8M75.3 306.1h-4.9M75.3 279.6h-2.8M75.3 264.1h-2.8M75.3 253.1h-2.8M75.3 244.5h-2.8M75.3 237.5h-2.8M75.3 231.6h-2.8M75.3 226.5h-2.8M75.3 222.0h-2.8M75.3 218.0h-4.9M75.3 191.5h-2.8M75.3 176.0h-2.8M75.3 165.0h-2.8M75.3 156.4h-2.8M75.3 149.4h-2.8M75.3 143.5h-2.8M75.3 138.4h-2.8M75.3 133.9h-2.8M75.3 129.9h-4.9M75.3 103.4h-2.8M75.3 87.9h-2.8M75.3 76.9h-2.8M75.3 68.3h-2.8M75.3 61.3h-2.8M75.3 55.4h-2.8M75.3 50.3h-2.8M75.3 45.8h-2.8M75.3 41.8h-4.9M78.6 733.2v2.8M161.0 733.2v2.8M230.7 733.2v2.8M291.1 733.2v2.8M344.4 733.2v2.8M705.6 733.2v2.8M889.0 733.2v2.8M1019.1 733.2v2.8M1120.1 733.2v2.8M1202.5 733.2v2.8M432.3 733.2v4.9M663.9 733.2v4.9M816.2 733.2v4.9M930.0 733.2v4.9M1020.8 733.2v4.9M1096.5 733.2v4.9M1161.2 733.2v4.9M1217.9 733.2v4.9" stroke="#ffffff" stroke-width="1" fill="none"/>
<text x="40.3" y="664.1" font-size="12.50" text-anchor="start" font-weight="normal" font-style="normal" fill="#e2e2e2" textLength="15.9" lengthAdjust="spacingAndGlyphs" >10</text>
<text x="56.2" y="657.6" font-size="8.75" fill="#e2e2e2" textLength="8.6" lengthAdjust="spacingAndGlyphs">−1</text>
<text x="43.3" y="576.0" font-size="12.50" text-anchor="start" font-weight="normal" font-style="normal" fill="#e2e2e2" textLength="15.9" lengthAdjust="spacingAndGlyphs" >10</text>
<text x="59.2" y="569.5" font-size="8.75" fill="#e2e2e2" textLength="5.6" lengthAdjust="spacingAndGlyphs">0</text>
<text x="43.4" y="487.9" font-size="12.50" text-anchor="start" font-weight="normal" font-style="normal" fill="#e2e2e2" textLength="15.9" lengthAdjust="spacingAndGlyphs" >10</text>
<text x="59.3" y="481.4" font-size="8.75" fill="#e2e2e2" textLength="5.5" lengthAdjust="spacingAndGlyphs">1</text>
<text x="43.4" y="399.8" font-size="12.50" text-anchor="start" font-weight="normal" font-style="normal" fill="#e2e2e2" textLength="15.9" lengthAdjust="spacingAndGlyphs" >10</text>
<text x="59.3" y="393.3" font-size="8.75" fill="#e2e2e2" textLength="5.5" lengthAdjust="spacingAndGlyphs">2</text>
<text x="43.3" y="311.7" font-size="12.50" text-anchor="start" font-weight="normal" font-style="normal" fill="#e2e2e2" textLength="15.9" lengthAdjust="spacingAndGlyphs" >10</text>
<text x="59.2" y="305.2" font-size="8.75" fill="#e2e2e2" textLength="5.6" lengthAdjust="spacingAndGlyphs">3</text>
<text x="43.4" y="223.6" font-size="12.50" text-anchor="start" font-weight="normal" font-style="normal" fill="#e2e2e2" textLength="15.9" lengthAdjust="spacingAndGlyphs" >10</text>
<text x="59.3" y="217.1" font-size="8.75" fill="#e2e2e2" textLength="5.5" lengthAdjust="spacingAndGlyphs">4</text>
<text x="43.3" y="135.5" font-size="12.50" text-anchor="start" font-weight="normal" font-style="normal" fill="#e2e2e2" textLength="15.9" lengthAdjust="spacingAndGlyphs" >10</text>
<text x="59.2" y="129.0" font-size="8.75" fill="#e2e2e2" textLength="5.6" lengthAdjust="spacingAndGlyphs">5</text>
<text x="43.4" y="47.4" font-size="12.50" text-anchor="start" font-weight="normal" font-style="normal" fill="#e2e2e2" textLength="15.9" lengthAdjust="spacingAndGlyphs" >10</text>
<text x="59.3" y="40.9" font-size="8.75" fill="#e2e2e2" textLength="5.5" lengthAdjust="spacingAndGlyphs">6</text>
<text x="432.3" y="751.6" font-size="12.50" text-anchor="middle" font-weight="normal" font-style="normal" fill="#e2e2e2" textLength="31.6" lengthAdjust="spacingAndGlyphs" >2012</text>
<text x="663.9" y="751.6" font-size="12.50" text-anchor="middle" font-weight="normal" font-style="normal" fill="#e2e2e2" textLength="31.6" lengthAdjust="spacingAndGlyphs" >2014</text>
<text x="816.2" y="751.6" font-size="12.50" text-anchor="middle" font-weight="normal" font-style="normal" fill="#e2e2e2" textLength="31.6" lengthAdjust="spacingAndGlyphs" >2016</text>
<text x="930.0" y="751.6" font-size="12.50" text-anchor="middle" font-weight="normal" font-style="normal" fill="#e2e2e2" textLength="31.8" lengthAdjust="spacingAndGlyphs" >2018</text>
<text x="1020.8" y="751.6" font-size="12.50" text-anchor="middle" font-weight="normal" font-style="normal" fill="#e2e2e2" textLength="31.8" lengthAdjust="spacingAndGlyphs" >2020</text>
<text x="1096.5" y="751.6" font-size="12.50" text-anchor="middle" font-weight="normal" font-style="normal" fill="#e2e2e2" textLength="31.6" lengthAdjust="spacingAndGlyphs" >2022</text>
<text x="1161.2" y="751.6" font-size="12.50" text-anchor="middle" font-weight="normal" font-style="normal" fill="#e2e2e2" textLength="31.6" lengthAdjust="spacingAndGlyphs" >2024</text>
<text x="1217.9" y="751.6" font-size="12.50" text-anchor="middle" font-weight="normal" font-style="normal" fill="#e2e2e2" textLength="31.6" lengthAdjust="spacingAndGlyphs" >2026</text>
<text x="673.3" y="772.0" font-size="15.28" text-anchor="middle" font-weight="normal" font-style="normal" fill="#e2e2e2" textLength="240.5" lengthAdjust="spacingAndGlyphs" >Days Since Genesis (Log Scale)</text>
<g transform="translate(24.2 385.5) rotate(-90)">
<text x="0.0" y="0.0" font-size="15.28" text-anchor="middle" font-weight="normal" font-style="normal" fill="#e2e2e2" textLength="177.5" lengthAdjust="spacingAndGlyphs" >Price (USD) [Log Scale]</text>
</g>
<text x="377.5" y="28.0" font-size="20.49" font-weight="bold" fill="#e2e2e2" textLength="442.5" lengthAdjust="spacingAndGlyphs">Bitcoin Power Law Corridor (Log-Log) [</text>
<text x="825.0" y="28.0" font-size="20.49" font-style="italic" fill="#e2e2e2" textLength="17.5" lengthAdjust="spacingAndGlyphs">R</text>
<text x="844.0" y="20.5" font-size="13.8" fill="#e2e2e2" textLength="8.5" lengthAdjust="spacingAndGlyphs">2</text>
<text x="860.0" y="28.0" font-size="20.49" font-weight="bold" fill="#e2e2e2" textLength="110" lengthAdjust="spacingAndGlyphs">= 0.9606]</text>
<rect x="94.6" y="68.0" width="295.0" height="138.5" rx="4" ry="4" fill="#222222" fill-opacity="0.92" stroke="#cccccc" stroke-width="1.2"/>
<text x="99.2" y="84.2" font-size="13.89" text-anchor="start" font-weight="normal" font-style="normal" fill="#e2e2e2" textLength="284.6" lengthAdjust="spacingAndGlyphs" >Model Fit: ALL DATA (Genesis to Present)</text>
<text x="99.2" y="99.5" font-size="13.89" text-anchor="start" font-weight="normal" font-style="normal" fill="#e2e2e2" textLength="257.0" lengthAdjust="spacingAndGlyphs" >ln(P) = 5.7001 * ln(days) + -38.0875</text>
<text x="99.2" y="115.2" font-size="13.89" text-anchor="start" font-weight="normal" font-style="normal" fill="#e2e2e2" textLength="204.6" lengthAdjust="spacingAndGlyphs" >P = 2.88e-17 × days^5.7001</text>
<text x="99.2" y="167.3" font-size="13.89" text-anchor="start" font-weight="normal" font-style="normal" fill="#e2e2e2" textLength="158.0" lengthAdjust="spacingAndGlyphs" >Current Price: $88,637</text>
<text x="99.2" y="183.5" font-size="13.89" text-anchor="start" font-weight="normal" font-style="normal" fill="#e2e2e2" textLength="200.0" lengthAdjust="spacingAndGlyphs" >Current Fair Value: $117,827</text>
<text x="99.2" y="199.7" font-size="13.89" text-anchor="start" font-weight="normal" font-style="normal" fill="#e2e2e2" textLength="124.7" lengthAdjust="spacingAndGlyphs" >Deviation: -24.8%</text>
<text x="99.2" y="133.9" font-size="14.6" fill="#e2e2e2" textLength="87" lengthAdjust="spacingAndGlyphs"><tspan font-style="italic">R</tspan><tspan font-size="10.2" dy="-6.5">2</tspan><tspan dy="6.5"> = 0.9606</tspan></text>
<rect x="1065.8" y="646.2" width="199.3" height="80.8" rx="3" ry="3" fill="#000000" fill-opacity="0.85" stroke="#888888" stroke-width="1"/>
<circle cx="1083" cy="656.5" r="1.4" fill="#22ee22"/>
<path d="M1069 675.2H1097.6" stroke="#f5a030" stroke-width="3"/>
<path d="M1069 694.6H1097.6" stroke="#b03030" stroke-opacity="0.55" stroke-width="1.3" stroke-dasharray="4.8 2.1"/>
<path d="M1069 713.8H1097.6" stroke="#7fc8c8" stroke-opacity="0.6" stroke-width="1.3" stroke-dasharray="4.8 2.1"/>
<text x="1106.6" y="660.6" font-size="12.50" text-anchor="start" font-weight="normal" font-style="normal" fill="#e2e2e2" textLength="74.4" lengthAdjust="spacingAndGlyphs" >Actual Price</text>
<text x="1106.6" y="679.8" font-size="12.50" text-anchor="start" font-weight="normal" font-style="normal" fill="#e2e2e2" textLength="148.9" lengthAdjust="spacingAndGlyphs" >Fair Value (Slope=5.70)</text>
<text x="1106.6" y="699.0" font-size="12.50" text-anchor="start" font-weight="normal" font-style="normal" fill="#e2e2e2" textLength="150.9" lengthAdjust="spacingAndGlyphs" >+2 Sigma (Overbought)</text>
<text x="1106.6" y="718.2" font-size="12.50" text-anchor="start" font-weight="normal" font-style="normal" fill="#e2e2e2" textLength="126.1" lengthAdjust="spacingAndGlyphs" >-2 Sigma (Oversold)</text>
<clipPath id="cpos"><rect x="0" y="0" width="1280" height="943.8"/></clipPath>
<clipPath id="cneg"><rect x="0" y="943.8" width="1280" height="300"/></clipPath>
<path d="M128.0 943.8L129.1 944.3L130.6 944.9L132.4 945.6L134.4 946.4L136.5 947.2L138.6 948.1L140.8 948.9L142.8 949.7L144.8 950.3L146.8 951.0L148.8 951.6L150.9 952.2L153.0 952.8L155.1 953.5L157.1 954.3L159.2 955.2L161.2 956.2L163.3 957.3L165.3 958.4L167.4 959.7L169.4 960.9L171.5 962.2L173.5 963.5L175.6 964.8L177.7 966.2L179.7 967.6L181.8 969.0L183.9 970.5L186.0 971.9L188.0 973.3L190.1 974.7L192.0 975.9L193.9 977.0L195.8 978.1L197.6 979.2L199.4 980.2L201.1 981.1L202.9 981.9L204.6 982.7L206.3 983.5L207.9 984.1L209.5 984.5L210.9 984.9L212.4 985.2L213.9 985.5L215.5 985.9L217.3 986.3L219.4 986.9L221.6 987.7L224.0 988.6L226.4 989.5L229.1 990.5L231.8 991.6L234.8 992.6L237.9 993.6L241.3 994.5L245.0 995.4L249.1 996.3L253.5 997.2L258.0 998.0L262.5 998.8L266.9 999.6L271.1 1000.2L275.0 1000.7L278.6 1001.1L282.0 1001.4L285.3 1001.7L288.5 1001.8L291.5 1001.9L294.4 1001.9L297.3 1001.8L300.0 1001.8L302.6 1001.6L305.1 1001.4L307.5 1001.1L309.8 1000.7L312.0 1000.3L314.1 999.9L316.1 999.4L318.0 999.0L319.7 998.7L321.2 998.6L322.6 998.5L323.9 998.4L325.2 998.1L326.5 997.5L328.0 996.4L329.7 994.9L331.6 992.6L333.5 989.8L335.6 986.6L337.7 983.0L339.9 979.3L342.2 975.6L344.6 972.0L347.0 968.6L349.6 965.4L352.3 962.0L355.2 958.6L358.2 955.3L361.1 952.0L363.9 949.0L366.5 946.2L368.8 943.8L370.7 941.7L372.4 939.9L373.9 938.3L375.2 937.0L376.5 935.8L377.9 934.7L379.4 933.7L381.0 932.8L382.8 931.9L384.7 931.1L386.7 930.5L388.8 929.9L390.9 929.5L392.9 929.2L395.0 929.0L397.0 929.0L399.0 929.0L400.9 929.3L402.8 929.6L404.8 930.1L406.7 930.6L408.6 931.3L410.6 932.0L412.5 932.8L414.4 933.7L416.4 934.8L418.3 936.0L420.2 937.4L422.2 938.6L424.1 939.9L426.1 940.9L428.0 941.7L429.9 942.3L431.7 942.5L433.5 942.6L435.3 942.6L437.2 942.6L439.2 942.7L441.3 943.1L443.8 943.8L446.5 944.9L449.7 946.3L453.1 947.9L456.5 949.7L460.0 951.4L463.2 953.1L466.2 954.6L468.8 955.9L470.8 956.7L472.3 957.3L473.6 957.7L474.7 958.0L475.7 958.3L476.9 958.8L478.3 959.6L480.0 960.7L482.1 962.3L484.6 964.4L487.3 966.7L490.0 969.1L492.8 971.6L495.4 974.0L497.9 976.2L500.0 978.0L501.7 979.3L502.9 980.3L503.9 981.1L504.8 981.8L505.8 982.4L507.0 983.3L508.7 984.4L511.0 985.9L514.0 987.8L517.5 990.0L521.5 992.4L525.7 994.9L530.0 997.6L534.4 1000.4L538.6 1003.2L542.5 1005.9L546.3 1008.8L550.1 1012.0L554.0 1015.3L557.7 1018.7L561.4 1021.9L564.8 1024.8L567.9 1027.4L570.6 1029.4L572.9 1030.8L574.9 1031.9L576.5 1032.6L578.0 1033.0L579.3 1033.1L580.5 1033.1L581.7 1032.8L583.0 1032.5L584.2 1031.9L585.3 1031.1L586.2 1030.2L587.2 1029.0L588.2 1027.6L589.3 1026.1L590.8 1024.5L592.5 1022.8L594.6 1020.9L596.9 1018.8L599.4 1016.5L602.1 1014.1L604.9 1011.7L607.9 1009.2L610.9 1006.8L614.0 1004.5L617.4 1002.3L621.1 1000.0L625.0 997.8L629.0 995.5L632.9 993.3L636.5 991.2L639.8 989.2L642.5 987.3L644.6 985.6L646.2 984.3L647.4 983.1L648.3 981.9L649.2 980.7L650.0 979.2L650.9 977.3L652.0 974.8L653.3 971.9L654.6 968.4L656.0 964.7L657.3 960.6L658.7 956.4L660.1 952.1L661.6 947.9L663.0 943.8L664.4 939.7L665.8 935.5L667.2 931.3L668.6 927.0L670.1 922.7L671.6 918.6L673.2 914.5L675.0 910.7L676.8 907.2L678.7 904.2L680.6 901.3L682.5 898.5L684.7 895.6L687.0 892.3L689.6 888.4L692.5 883.8L695.8 878.0L699.6 871.1L703.6 863.5L707.9 855.5L712.1 847.8L716.3 840.6L720.2 834.4L723.8 829.6L726.9 826.2L729.9 823.8L732.6 822.1L735.3 821.2L737.8 820.7L740.4 820.6L742.9 820.8L745.6 821.0L748.3 821.3L751.0 822.1L753.7 823.1L756.4 824.5L759.1 826.1L761.8 828.0L764.6 830.2L767.5 832.7L770.5 835.5L773.6 838.8L776.8 842.3L780.0 846.1L783.2 850.1L786.4 854.2L789.5 858.3L792.5 862.4L795.3 866.4L797.9 870.4L800.4 874.4L802.8 878.6L805.4 882.8L808.0 887.3L810.9 891.9L814.0 896.9L817.6 902.3L821.6 908.4L825.9 914.8L830.2 921.3L834.6 927.7L838.7 933.7L842.4 939.2L845.6 943.8L848.2 947.5L850.4 950.4L852.2 952.8L853.8 954.8L855.2 956.6L856.7 958.4L858.2 960.4L860.0 962.8L861.9 965.4L863.9 968.1L865.9 970.9L867.9 973.8L869.9 976.7L872.0 979.7L874.2 982.7L876.4 985.9L878.7 989.4L881.2 993.3L883.8 997.4L886.4 1001.5L889.0 1005.4L891.5 1008.9L893.8 1011.8L896.0 1013.8L897.9 1015.0L899.7 1015.5L901.4 1015.4L902.9 1014.9L904.4 1014.0L905.9 1012.9L907.4 1011.7L909.0 1010.4L910.6 1009.2L912.2 1008.0L913.7 1006.6L915.3 1005.0L916.9 1003.1L918.5 1000.6L920.2 997.6L922.0 993.8L923.9 989.0L925.9 983.2L928.0 976.6L930.1 969.6L932.3 962.5L934.5 955.6L936.6 949.3L938.7 943.8L940.8 939.1L942.8 934.8L944.8 930.8L946.9 927.2L948.9 923.8L950.9 920.7L953.0 917.7L955.0 914.8L957.0 911.9L959.0 908.9L961.0 906.0L962.9 903.4L965.0 901.1L967.0 899.5L969.2 898.6L971.5 898.6L974.0 900.0L976.6 902.7L979.4 906.3L982.2 910.5L985.0 914.7L987.7 918.4L990.3 921.4L992.8 923.1L995.1 923.4L997.2 922.6L999.2 921.1L1001.1 919.1L1003.0 917.0L1004.9 915.1L1006.9 913.7L1009.0 913.1L1011.2 913.2L1013.4 913.7L1015.7 914.5L1018.0 915.5L1020.3 916.8L1022.6 918.2L1024.8 919.8L1027.0 921.4L1029.2 923.2L1031.4 925.3L1033.6 927.7L1035.7 930.1L1037.8 932.6L1039.8 934.9L1041.8 937.1L1043.6 939.0L1045.3 940.6L1046.9 942.2L1048.5 943.7L1049.9 945.0L1051.3 946.2L1052.6 947.1L1053.8 947.8L1055.0 948.3L1056.0 948.7L1056.8 949.4L1057.4 949.9L1058.0 950.2L1058.6 949.9L1059.4 948.9L1060.3 947.0L1061.6 943.8L1063.2 939.1L1065.0 933.0L1067.0 925.8L1069.1 917.9L1071.3 909.7L1073.6 901.6L1075.8 893.8L1078.0 886.9L1080.2 880.4L1082.5 873.9L1084.8 867.6L1087.2 861.4L1089.5 855.5L1091.8 850.1L1094.0 845.2L1096.0 841.0L1097.9 837.3L1099.7 834.0L1101.4 831.1L1103.0 828.7L1104.6 826.8L1106.2 825.5L1107.8 824.8L1109.4 824.8L1111.1 825.5L1112.7 827.1L1114.3 829.3L1116.0 832.0L1117.6 835.2L1119.2 838.6L1120.9 842.2L1122.5 845.8L1124.1 849.7L1125.7 854.1L1127.3 858.9L1128.9 863.8L1130.5 868.8L1132.1 873.6L1133.8 878.2L1135.5 882.4L1137.2 886.1L1139.0 889.5L1140.8 892.7L1142.6 895.8L1144.5 898.8L1146.3 901.8L1148.2 904.9L1150.0 908.3L1151.9 912.0L1153.8 916.1L1155.7 920.4L1157.6 924.7L1159.5 928.8L1161.4 932.5L1163.2 935.6L1165.0 937.9L1166.8 939.3L1168.5 939.9L1170.2 939.9L1171.9 939.5L1173.6 939.0L1175.1 938.5L1176.6 938.3L1178.0 938.6L1179.2 939.5L1180.3 940.7L1181.3 942.2L1182.3 943.8L1183.2 945.3L1184.1 946.7L1185.0 947.7L1186.0 948.3L1187.1 948.4L1188.1 948.0L1189.2 947.4L1190.3 946.6L1191.4 945.7L1192.5 944.9L1193.5 944.2L1194.5 943.8L1195.4 943.7L1196.1 943.7L1196.9 943.9L1197.5 944.1L1198.3 944.3L1199.1 944.5L1200.0 944.6L1201.0 944.5L1202.3 944.2L1203.7 943.7L1205.3 943.1L1207.0 942.5L1208.6 941.9L1210.2 941.3L1211.6 940.9L1212.7 940.7L1213.6 940.7L1214.3 940.8L1214.9 941.1L1215.4 941.5L1215.8 941.9L1216.2 942.3L1216.4 942.6L1216.7 942.8L1216.7 943.8L128.0 943.8Z" fill="#006400" clip-path="url(#cpos)"/>
<path d="M128.0 943.8L129.1 944.3L130.6 944.9L132.4 945.6L134.4 946.4L136.5 947.2L138.6 948.1L140.8 948.9L142.8 949.7L144.8 950.3L146.8 951.0L148.8 951.6L150.9 952.2L153.0 952.8L155.1 953.5L157.1 954.3L159.2 955.2L161.2 956.2L163.3 957.3L165.3 958.4L167.4 959.7L169.4 960.9L171.5 962.2L173.5 963.5L175.6 964.8L177.7 966.2L179.7 967.6L181.8 969.0L183.9 970.5L186.0 971.9L188.0 973.3L190.1 974.7L192.0 975.9L193.9 977.0L195.8 978.1L197.6 979.2L199.4 980.2L201.1 981.1L202.9 981.9L204.6 982.7L206.3 983.5L207.9 984.1L209.5 984.5L210.9 984.9L212.4 985.2L213.9 985.5L215.5 985.9L217.3 986.3L219.4 986.9L221.6 987.7L224.0 988.6L226.4 989.5L229.1 990.5L231.8 991.6L234.8 992.6L237.9 993.6L241.3 994.5L245.0 995.4L249.1 996.3L253.5 997.2L258.0 998.0L262.5 998.8L266.9 999.6L271.1 1000.2L275.0 1000.7L278.6 1001.1L282.0 1001.4L285.3 1001.7L288.5 1001.8L291.5 1001.9L294.4 1001.9L297.3 1001.8L300.0 1001.8L302.6 1001.6L305.1 1001.4L307.5 1001.1L309.8 1000.7L312.0 1000.3L314.1 999.9L316.1 999.4L318.0 999.0L319.7 998.7L321.2 998.6L322.6 998.5L323.9 998.4L325.2 998.1L326.5 997.5L328.0 996.4L329.7 994.9L331.6 992.6L333.5 989.8L335.6 986.6L337.7 983.0L339.9 979.3L342.2 975.6L344.6 972.0L347.0 968.6L349.6 965.4L352.3 962.0L355.2 958.6L358.2 955.3L361.1 952.0L363.9 949.0L366.5 946.2L368.8 943.8L370.7 941.7L372.4 939.9L373.9 938.3L375.2 937.0L376.5 935.8L377.9 934.7L379.4 933.7L381.0 932.8L382.8 931.9L384.7 931.1L386.7 930.5L388.8 929.9L390.9 929.5L392.9 929.2L395.0 929.0L397.0 929.0L399.0 929.0L400.9 929.3L402.8 929.6L404.8 930.1L406.7 930.6L408.6 931.3L410.6 932.0L412.5 932.8L414.4 933.7L416.4 934.8L418.3 936.0L420.2 937.4L422.2 938.6L424.1 939.9L426.1 940.9L428.0 941.7L429.9 942.3L431.7 942.5L433.5 942.6L435.3 942.6L437.2 942.6L439.2 942.7L441.3 943.1L443.8 943.8L446.5 944.9L449.7 946.3L453.1 947.9L456.5 949.7L460.0 951.4L463.2 953.1L466.2 954.6L468.8 955.9L470.8 956.7L472.3 957.3L473.6 957.7L474.7 958.0L475.7 958.3L476.9 958.8L478.3 959.6L480.0 960.7L482.1 962.3L484.6 964.4L487.3 966.7L490.0 969.1L492.8 971.6L495.4 974.0L497.9 976.2L500.0 978.0L501.7 979.3L502.9 980.3L503.9 981.1L504.8 981.8L505.8 982.4L507.0 983.3L508.7 984.4L511.0 985.9L514.0 987.8L517.5 990.0L521.5 992.4L525.7 994.9L530.0 997.6L534.4 1000.4L538.6 1003.2L542.5 1005.9L546.3 1008.8L550.1 1012.0L554.0 1015.3L557.7 1018.7L561.4 1021.9L564.8 1024.8L567.9 1027.4L570.6 1029.4L572.9 1030.8L574.9 1031.9L576.5 1032.6L578.0 1033.0L579.3 1033.1L580.5 1033.1L581.7 1032.8L583.0 1032.5L584.2 1031.9L585.3 1031.1L586.2 1030.2L587.2 1029.0L588.2 1027.6L589.3 1026.1L590.8 1024.5L592.5 1022.8L594.6 1020.9L596.9 1018.8L599.4 1016.5L602.1 1014.1L604.9 1011.7L607.9 1009.2L610.9 1006.8L614.0 1004.5L617.4 1002.3L621.1 1000.0L625.0 997.8L629.0 995.5L632.9 993.3L636.5 991.2L639.8 989.2L642.5 987.3L644.6 985.6L646.2 984.3L647.4 983.1L648.3 981.9L649.2 980.7L650.0 979.2L650.9 977.3L652.0 974.8L653.3 971.9L654.6 968.4L656.0 964.7L657.3 960.6L658.7 956.4L660.1 952.1L661.6 947.9L663.0 943.8L664.4 939.7L665.8 935.5L667.2 931.3L668.6 927.0L670.1 922.7L671.6 918.6L673.2 914.5L675.0 910.7L676.8 907.2L678.7 904.2L680.6 901.3L682.5 898.5L684.7 895.6L687.0 892.3L689.6 888.4L692.5 883.8L695.8 878.0L699.6 871.1L703.6 863.5L707.9 855.5L712.1 847.8L716.3 840.6L720.2 834.4L723.8 829.6L726.9 826.2L729.9 823.8L732.6 822.1L735.3 821.2L737.8 820.7L740.4 820.6L742.9 820.8L745.6 821.0L748.3 821.3L751.0 822.1L753.7 823.1L756.4 824.5L759.1 826.1L761.8 828.0L764.6 830.2L767.5 832.7L770.5 835.5L773.6 838.8L776.8 842.3L780.0 846.1L783.2 850.1L786.4 854.2L789.5 858.3L792.5 862.4L795.3 866.4L797.9 870.4L800.4 874.4L802.8 878.6L805.4 882.8L808.0 887.3L810.9 891.9L814.0 896.9L817.6 902.3L821.6 908.4L825.9 914.8L830.2 921.3L834.6 927.7L838.7 933.7L842.4 939.2L845.6 943.8L848.2 947.5L850.4 950.4L852.2 952.8L853.8 954.8L855.2 956.6L856.7 958.4L858.2 960.4L860.0 962.8L861.9 965.4L863.9 968.1L865.9 970.9L867.9 973.8L869.9 976.7L872.0 979.7L874.2 982.7L876.4 985.9L878.7 989.4L881.2 993.3L883.8 997.4L886.4 1001.5L889.0 1005.4L891.5 1008.9L893.8 1011.8L896.0 1013.8L897.9 1015.0L899.7 1015.5L901.4 1015.4L902.9 1014.9L904.4 1014.0L905.9 1012.9L907.4 1011.7L909.0 1010.4L910.6 1009.2L912.2 1008.0L913.7 1006.6L915.3 1005.0L916.9 1003.1L918.5 1000.6L920.2 997.6L922.0 993.8L923.9 989.0L925.9 983.2L928.0 976.6L930.1 969.6L932.3 962.5L934.5 955.6L936.6 949.3L938.7 943.8L940.8 939.1L942.8 934.8L944.8 930.8L946.9 927.2L948.9 923.8L950.9 920.7L953.0 917.7L955.0 914.8L957.0 911.9L959.0 908.9L961.0 906.0L962.9 903.4L965.0 901.1L967.0 899.5L969.2 898.6L971.5 898.6L974.0 900.0L976.6 902.7L979.4 906.3L982.2 910.5L985.0 914.7L987.7 918.4L990.3 921.4L992.8 923.1L995.1 923.4L997.2 922.6L999.2 921.1L1001.1 919.1L1003.0 917.0L1004.9 915.1L1006.9 913.7L1009.0 913.1L1011.2 913.2L1013.4 913.7L1015.7 914.5L1018.0 915.5L1020.3 916.8L1022.6 918.2L1024.8 919.8L1027.0 921.4L1029.2 923.2L1031.4 925.3L1033.6 927.7L1035.7 930.1L1037.8 932.6L1039.8 934.9L1041.8 937.1L1043.6 939.0L1045.3 940.6L1046.9 942.2L1048.5 943.7L1049.9 945.0L1051.3 946.2L1052.6 947.1L1053.8 947.8L1055.0 948.3L1056.0 948.7L1056.8 949.4L1057.4 949.9L1058.0 950.2L1058.6 949.9L1059.4 948.9L1060.3 947.0L1061.6 943.8L1063.2 939.1L1065.0 933.0L1067.0 925.8L1069.1 917.9L1071.3 909.7L1073.6 901.6L1075.8 893.8L1078.0 886.9L1080.2 880.4L1082.5 873.9L1084.8 867.6L1087.2 861.4L1089.5 855.5L1091.8 850.1L1094.0 845.2L1096.0 841.0L1097.9 837.3L1099.7 834.0L1101.4 831.1L1103.0 828.7L1104.6 826.8L1106.2 825.5L1107.8 824.8L1109.4 824.8L1111.1 825.5L1112.7 827.1L1114.3 829.3L1116.0 832.0L1117.6 835.2L1119.2 838.6L1120.9 842.2L1122.5 845.8L1124.1 849.7L1125.7 854.1L1127.3 858.9L1128.9 863.8L1130.5 868.8L1132.1 873.6L1133.8 878.2L1135.5 882.4L1137.2 886.1L1139.0 889.5L1140.8 892.7L1142.6 895.8L1144.5 898.8L1146.3 901.8L1148.2 904.9L1150.0 908.3L1151.9 912.0L1153.8 916.1L1155.7 920.4L1157.6 924.7L1159.5 928.8L1161.4 932.5L1163.2 935.6L1165.0 937.9L1166.8 939.3L1168.5 939.9L1170.2 939.9L1171.9 939.5L1173.6 939.0L1175.1 938.5L1176.6 938.3L1178.0 938.6L1179.2 939.5L1180.3 940.7L1181.3 942.2L1182.3 943.8L1183.2 945.3L1184.1 946.7L1185.0 947.7L1186.0 948.3L1187.1 948.4L1188.1 948.0L1189.2 947.4L1190.3 946.6L1191.4 945.7L1192.5 944.9L1193.5 944.2L1194.5 943.8L1195.4 943.7L1196.1 943.7L1196.9 943.9L1197.5 944.1L1198.3 944.3L1199.1 944.5L1200.0 944.6L1201.0 944.5L1202.3 944.2L1203.7 943.7L1205.3 943.1L1207.0 942.5L1208.6 941.9L1210.2 941.3L1211.6 940.9L1212.7 940.7L1213.6 940.7L1214.3 940.8L1214.9 941.1L1215.4 941.5L1215.8 941.9L1216.2 942.3L1216.4 942.6L1216.7 942.8L1216.7 943.8L128.0 943.8Z" fill="#6b0000" clip-path="url(#cneg)"/>
<path d="M75.3 840.3H1271.2M75.3 874.8H1271.2M75.3 909.3H1271.2M75.3 943.8H1271.2M75.3 978.3H1271.2M75.3 1012.8H1271.2" stroke="#ffffff" stroke-opacity="0.2" stroke-width="1" fill="none"/>
<path d="M78.6 811.8V1043.4M161.0 811.8V1043.4M230.7 811.8V1043.4M291.1 811.8V1043.4M344.4 811.8V1043.4M705.6 811.8V1043.4M889.0 811.8V1043.4M1019.1 811.8V1043.4M1120.1 811.8V1043.4M1202.5 811.8V1043.4M432.3 811.8V1043.4M663.9 811.8V1043.4M816.2 811.8V1043.4M930.0 811.8V1043.4M1020.8 811.8V1043.4M1096.5 811.8V1043.4M1161.2 811.8V1043.4M1217.9 811.8V1043.4" stroke="#ffffff" stroke-opacity="0.2" stroke-width="1" fill="none"/>
<path d="M75.3 943.8H1271.2" stroke="#aaaaaa" stroke-width="1.3" stroke-dasharray="4.8 2.1" fill="none"/>
<path d="M128.0 943.8L129.1 944.3L130.6 944.9L132.4 945.6L134.4 946.4L136.5 947.2L138.6 948.1L140.8 948.9L142.8 949.7L144.8 950.3L146.8 951.0L148.8 951.6L150.9 952.2L153.0 952.8L155.1 953.5L157.1 954.3L159.2 955.2L161.2 956.2L163.3 957.3L165.3 958.4L167.4 959.7L169.4 960.9L171.5 962.2L173.5 963.5L175.6 964.8L177.7 966.2L179.7 967.6L181.8 969.0L183.9 970.5L186.0 971.9L188.0 973.3L190.1 974.7L192.0 975.9L193.9 977.0L195.8 978.1L197.6 979.2L199.4 980.2L201.1 981.1L202.9 981.9L204.6 982.7L206.3 983.5L207.9 984.1L209.5 984.5L210.9 984.9L212.4 985.2L213.9 985.5L215.5 985.9L217.3 986.3L219.4 986.9L221.6 987.7L224.0 988.6L226.4 989.5L229.1 990.5L231.8 991.6L234.8 992.6L237.9 993.6L241.3 994.5L245.0 995.4L249.1 996.3L253.5 997.2L258.0 998.0L262.5 998.8L266.9 999.6L271.1 1000.2L275.0 1000.7L278.6 1001.1L282.0 1001.4L285.3 1001.7L288.5 1001.8L291.5 1001.9L294.4 1001.9L297.3 1001.8L300.0 1001.8L302.6 1001.6L305.1 1001.4L307.5 1001.1L309.8 1000.7L312.0 1000.3L314.1 999.9L316.1 999.4L318.0 999.0L319.7 998.7L321.2 998.6L322.6 998.5L323.9 998.4L325.2 998.1L326.5 997.5L328.0 996.4L329.7 994.9L331.6 992.6L333.5 989.8L335.6 986.6L337.7 983.0L339.9 979.3L342.2 975.6L344.6 972.0L347.0 968.6L349.6 965.4L352.3 962.0L355.2 958.6L358.2 955.3L361.1 952.0L363.9 949.0L366.5 946.2L368.8 943.8L370.7 941.7L372.4 939.9L373.9 938.3L375.2 937.0L376.5 935.8L377.9 934.7L379.4 933.7L381.0 932.8L382.8 931.9L384.7 931.1L386.7 930.5L388.8 929.9L390.9 929.5L392.9 929.2L395.0 929.0L397.0 929.0L399.0 929.0L400.9 929.3L402.8 929.6L404.8 930.1L406.7 930.6L408.6 931.3L410.6 932.0L412.5 932.8L414.4 933.7L416.4 934.8L418.3 936.0L420.2 937.4L422.2 938.6L424.1 939.9L426.1 940.9L428.0 941.7L429.9 942.3L431.7 942.5L433.5 942.6L435.3 942.6L437.2 942.6L439.2 942.7L441.3 943.1L443.8 943.8L446.5 944.9L449.7 946.3L453.1 947.9L456.5 949.7L460.0 951.4L463.2 953.1L466.2 954.6L468.8 955.9L470.8 956.7L472.3 957.3L473.6 957.7L474.7 958.0L475.7 958.3L476.9 958.8L478.3 959.6L480.0 960.7L482.1 962.3L484.6 964.4L487.3 966.7L490.0 969.1L492.8 971.6L495.4 974.0L497.9 976.2L500.0 978.0L501.7 979.3L502.9 980.3L503.9 981.1L504.8 981.8L505.8 982.4L507.0 983.3L508.7 984.4L511.0 985.9L514.0 987.8L517.5 990.0L521.5 992.4L525.7 994.9L530.0 997.6L534.4 1000.4L538.6 1003.2L542.5 1005.9L546.3 1008.8L550.1 1012.0L554.0 1015.3L557.7 1018.7L561.4 1021.9L564.8 1024.8L567.9 1027.4L570.6 1029.4L572.9 1030.8L574.9 1031.9L576.5 1032.6L578.0 1033.0L579.3 1033.1L580.5 1033.1L581.7 1032.8L583.0 1032.5L584.2 1031.9L585.3 1031.1L586.2 1030.2L587.2 1029.0L588.2 1027.6L589.3 1026.1L590.8 1024.5L592.5 1022.8L594.6 1020.9L596.9 1018.8L599.4 1016.5L602.1 1014.1L604.9 1011.7L607.9 1009.2L610.9 1006.8L614.0 1004.5L617.4 1002.3L621.1 1000.0L625.0 997.8L629.0 995.5L632.9 993.3L636.5 991.2L639.8 989.2L642.5 987.3L644.6 985.6L646.2 984.3L647.4 983.1L648.3 981.9L649.2 980.7L650.0 979.2L650.9 977.3L652.0 974.8L653.3 971.9L654.6 968.4L656.0 964.7L657.3 960.6L658.7 956.4L660.1 952.1L661.6 947.9L663.0 943.8L664.4 939.7L665.8 935.5L667.2 931.3L668.6 927.0L670.1 922.7L671.6 918.6L673.2 914.5L675.0 910.7L676.8 907.2L678.7 904.2L680.6 901.3L682.5 898.5L684.7 895.6L687.0 892.3L689.6 888.4L692.5 883.8L695.8 878.0L699.6 871.1L703.6 863.5L707.9 855.5L712.1 847.8L716.3 840.6L720.2 834.4L723.8 829.6L726.9 826.2L729.9 823.8L732.6 822.1L735.3 821.2L737.8 820.7L740.4 820.6L742.9 820.8L745.6 821.0L748.3 821.3L751.0 822.1L753.7 823.1L756.4 824.5L759.1 826.1L761.8 828.0L764.6 830.2L767.5 832.7L770.5 835.5L773.6 838.8L776.8 842.3L780.0 846.1L783.2 850.1L786.4 854.2L789.5 858.3L792.5 862.4L795.3 866.4L797.9 870.4L800.4 874.4L802.8 878.6L805.4 882.8L808.0 887.3L810.9 891.9L814.0 896.9L817.6 902.3L821.6 908.4L825.9 914.8L830.2 921.3L834.6 927.7L838.7 933.7L842.4 939.2L845.6 943.8L848.2 947.5L850.4 950.4L852.2 952.8L853.8 954.8L855.2 956.6L856.7 958.4L858.2 960.4L860.0 962.8L861.9 965.4L863.9 968.1L865.9 970.9L867.9 973.8L869.9 976.7L872.0 979.7L874.2 982.7L876.4 985.9L878.7 989.4L881.2 993.3L883.8 997.4L886.4 1001.5L889.0 1005.4L891.5 1008.9L893.8 1011.8L896.0 1013.8L897.9 1015.0L899.7 1015.5L901.4 1015.4L902.9 1014.9L904.4 1014.0L905.9 1012.9L907.4 1011.7L909.0 1010.4L910.6 1009.2L912.2 1008.0L913.7 1006.6L915.3 1005.0L916.9 1003.1L918.5 1000.6L920.2 997.6L922.0 993.8L923.9 989.0L925.9 983.2L928.0 976.6L930.1 969.6L932.3 962.5L934.5 955.6L936.6 949.3L938.7 943.8L940.8 939.1L942.8 934.8L944.8 930.8L946.9 927.2L948.9 923.8L950.9 920.7L953.0 917.7L955.0 914.8L957.0 911.9L959.0 908.9L961.0 906.0L962.9 903.4L965.0 901.1L967.0 899.5L969.2 898.6L971.5 898.6L974.0 900.0L976.6 902.7L979.4 906.3L982.2 910.5L985.0 914.7L987.7 918.4L990.3 921.4L992.8 923.1L995.1 923.4L997.2 922.6L999.2 921.1L1001.1 919.1L1003.0 917.0L1004.9 915.1L1006.9 913.7L1009.0 913.1L1011.2 913.2L1013.4 913.7L1015.7 914.5L1018.0 915.5L1020.3 916.8L1022.6 918.2L1024.8 919.8L1027.0 921.4L1029.2 923.2L1031.4 925.3L1033.6 927.7L1035.7 930.1L1037.8 932.6L1039.8 934.9L1041.8 937.1L1043.6 939.0L1045.3 940.6L1046.9 942.2L1048.5 943.7L1049.9 945.0L1051.3 946.2L1052.6 947.1L1053.8 947.8L1055.0 948.3L1056.0 948.7L1056.8 949.4L1057.4 949.9L1058.0 950.2L1058.6 949.9L1059.4 948.9L1060.3 947.0L1061.6 943.8L1063.2 939.1L1065.0 933.0L1067.0 925.8L1069.1 917.9L1071.3 909.7L1073.6 901.6L1075.8 893.8L1078.0 886.9L1080.2 880.4L1082.5 873.9L1084.8 867.6L1087.2 861.4L1089.5 855.5L1091.8 850.1L1094.0 845.2L1096.0 841.0L1097.9 837.3L1099.7 834.0L1101.4 831.1L1103.0 828.7L1104.6 826.8L1106.2 825.5L1107.8 824.8L1109.4 824.8L1111.1 825.5L1112.7 827.1L1114.3 829.3L1116.0 832.0L1117.6 835.2L1119.2 838.6L1120.9 842.2L1122.5 845.8L1124.1 849.7L1125.7 854.1L1127.3 858.9L1128.9 863.8L1130.5 868.8L1132.1 873.6L1133.8 878.2L1135.5 882.4L1137.2 886.1L1139.0 889.5L1140.8 892.7L1142.6 895.8L1144.5 898.8L1146.3 901.8L1148.2 904.9L1150.0 908.3L1151.9 912.0L1153.8 916.1L1155.7 920.4L1157.6 924.7L1159.5 928.8L1161.4 932.5L1163.2 935.6L1165.0 937.9L1166.8 939.3L1168.5 939.9L1170.2 939.9L1171.9 939.5L1173.6 939.0L1175.1 938.5L1176.6 938.3L1178.0 938.6L1179.2 939.5L1180.3 940.7L1181.3 942.2L1182.3 943.8L1183.2 945.3L1184.1 946.7L1185.0 947.7L1186.0 948.3L1187.1 948.4L1188.1 948.0L1189.2 947.4L1190.3 946.6L1191.4 945.7L1192.5 944.9L1193.5 944.2L1194.5 943.8L1195.4 943.7L1196.1 943.7L1196.9 943.9L1197.5 944.1L1198.3 944.3L1199.1 944.5L1200.0 944.6L1201.0 944.5L1202.3 944.2L1203.7 943.7L1205.3 943.1L1207.0 942.5L1208.6 941.9L1210.2 941.3L1211.6 940.9L1212.7 940.7L1213.6 940.7L1214.3 940.8L1214.9 941.1L1215.4 941.5L1215.8 941.9L1216.2 942.3L1216.4 942.6L1216.7 942.8" stroke="#ffffff" stroke-width="1.8" fill="none" stroke-linejoin="round"/>
<rect x="75.3" y="811.8" width="1195.9" height="231.6" fill="none" stroke="#ffffff" stroke-width="1.1"/>
<path d="M75.3 840.3h-4.9M75.3 874.8h-4.9M75.3 909.3h-4.9M75.3 943.8h-4.9M75.3 978.3h-4.9M75.3 1012.8h-4.9M78.6 1043.4v2.8M161.0 1043.4v2.8M230.7 1043.4v2.8M291.1 1043.4v2.8M344.4 1043.4v2.8M705.6 1043.4v2.8M889.0 1043.4v2.8M1019.1 1043.4v2.8M1120.1 1043.4v2.8M1202.5 1043.4v2.8M432.3 1043.4v4.9M663.9 1043.4v4.9M816.2 1043.4v4.9M930.0 1043.4v4.9M1020.8 1043.4v4.9M1096.5 1043.4v4.9M1161.2 1043.4v4.9M1217.9 1043.4v4.9" stroke="#ffffff" stroke-width="1" fill="none"/>
<text x="66.0" y="845.4" font-size="12.50" text-anchor="end" font-weight="normal" font-style="normal" fill="#e2e2e2" textLength="23.9" lengthAdjust="spacingAndGlyphs" >300</text>
<text x="66.0" y="879.9" font-size="12.50" text-anchor="end" font-weight="normal" font-style="normal" fill="#e2e2e2" textLength="23.9" lengthAdjust="spacingAndGlyphs" >200</text>
<text x="66.0" y="914.4" font-size="12.50" text-anchor="end" font-weight="normal" font-style="normal" fill="#e2e2e2" textLength="23.9" lengthAdjust="spacingAndGlyphs" >100</text>
<text x="66.0" y="948.9" font-size="12.50" text-anchor="end" font-weight="normal" font-style="normal" fill="#e2e2e2" textLength="8.0" lengthAdjust="spacingAndGlyphs" >0</text>
<text x="66.0" y="983.4" font-size="12.50" text-anchor="end" font-weight="normal" font-style="normal" fill="#e2e2e2" textLength="34.4" lengthAdjust="spacingAndGlyphs" >−100</text>
<text x="66.0" y="1017.9" font-size="12.50" text-anchor="end" font-weight="normal" font-style="normal" fill="#e2e2e2" textLength="34.4" lengthAdjust="spacingAndGlyphs" >−200</text>
<text x="432.3" y="1061.8" font-size="12.50" text-anchor="middle" font-weight="normal" font-style="normal" fill="#e2e2e2" textLength="31.6" lengthAdjust="spacingAndGlyphs" >2012</text>
<text x="663.9" y="1061.8" font-size="12.50" text-anchor="middle" font-weight="normal" font-style="normal" fill="#e2e2e2" textLength="31.6" lengthAdjust="spacingAndGlyphs" >2014</text>
<text x="816.2" y="1061.8" font-size="12.50" text-anchor="middle" font-weight="normal" font-style="normal" fill="#e2e2e2" textLength="31.6" lengthAdjust="spacingAndGlyphs" >2016</text>
<text x="930.0" y="1061.8" font-size="12.50" text-anchor="middle" font-weight="normal" font-style="normal" fill="#e2e2e2" textLength="31.8" lengthAdjust="spacingAndGlyphs" >2018</text>
<text x="1020.8" y="1061.8" font-size="12.50" text-anchor="middle" font-weight="normal" font-style="normal" fill="#e2e2e2" textLength="31.8" lengthAdjust="spacingAndGlyphs" >2020</text>
<text x="1096.5" y="1061.8" font-size="12.50" text-anchor="middle" font-weight="normal" font-style="normal" fill="#e2e2e2" textLength="31.6" lengthAdjust="spacingAndGlyphs" >2022</text>
<text x="1161.2" y="1061.8" font-size="12.50" text-anchor="middle" font-weight="normal" font-style="normal" fill="#e2e2e2" textLength="31.6" lengthAdjust="spacingAndGlyphs" >2024</text>
<text x="1217.9" y="1061.8" font-size="12.50" text-anchor="middle" font-weight="normal" font-style="normal" fill="#e2e2e2" textLength="31.6" lengthAdjust="spacingAndGlyphs" >2026</text>
<text x="673.3" y="1082.5" font-size="15.28" text-anchor="middle" font-weight="normal" font-style="normal" fill="#e2e2e2" textLength="32.5" lengthAdjust="spacingAndGlyphs" >Year</text>
<g transform="translate(21.0 927.8) rotate(-90)">
<text x="0.0" y="0.0" font-size="15.28" text-anchor="middle" font-weight="normal" font-style="normal" fill="#e2e2e2" textLength="201.1" lengthAdjust="spacingAndGlyphs" >Net Pressure (Cumulative)</text>
</g>
<text x="673.3" y="803.8" font-size="18.06" text-anchor="middle" font-weight="normal" font-style="normal" fill="#e2e2e2" textLength="396.5" lengthAdjust="spacingAndGlyphs" >Bitcoin Market Coil (Accumulated Deviation)</text>
<rect x="81.0" y="994.4" width="247.0" height="42.6" rx="3" ry="3" fill="#000000" fill-opacity="0.85" stroke="#888888" stroke-width="1"/>
<rect x="87.0" y="1000.0" width="26" height="9.5" fill="#006400"/>
<rect x="87.0" y="1019.5" width="26" height="9.5" fill="#6b0000"/>
<text x="122.5" y="1009.6" font-size="12.50" text-anchor="start" font-weight="normal" font-style="normal" fill="#e2e2e2" textLength="199.5" lengthAdjust="spacingAndGlyphs" >Expansion (Releasing Pressure)</text>
<text x="122.5" y="1029.0" font-size="12.50" text-anchor="start" font-weight="normal" font-style="normal" fill="#e2e2e2" textLength="167.5" lengthAdjust="spacingAndGlyphs" >Coiling (Building Pressure)</text>
</g></svg>
</body></html>
